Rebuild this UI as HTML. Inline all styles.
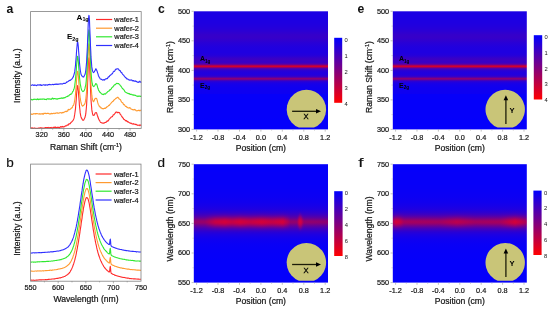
<!DOCTYPE html>
<html><head><meta charset="utf-8"><title>Figure</title>
<style>
html,body{margin:0;padding:0;background:#fff;}
svg{display:block;}
text{font-family:"Liberation Sans",sans-serif;fill:#151515;}
.t{font-size:7.3px;stroke:#151515;stroke-width:0.2px;}
.g{font-size:7.4px;stroke:#151515;stroke-width:0.2px;}
.l{font-size:8.6px;stroke:#151515;stroke-width:0.22px;}
.pb{font-size:12.2px;font-weight:bold;fill:#111;}
.pr{font-size:13.5px;fill:#111;stroke:#111;stroke-width:0.15px;}
.k{font-weight:bold;fill:#000;}
</style></head><body>
<svg width="550" height="311" viewBox="0 0 550 311">
<rect x="0" y="0" width="550" height="311" fill="#fff"/>
<defs>
<linearGradient id="gr" x1="0" y1="0" x2="0" y2="1">
<stop offset="0.0000" stop-color="#1b00e4"/><stop offset="0.0042" stop-color="#1b00e4"/><stop offset="0.0083" stop-color="#1b00e4"/><stop offset="0.0125" stop-color="#1b00e4"/><stop offset="0.0167" stop-color="#1b00e4"/><stop offset="0.0208" stop-color="#1b00e4"/><stop offset="0.0250" stop-color="#1c00e3"/><stop offset="0.0292" stop-color="#1c00e3"/><stop offset="0.0333" stop-color="#1c00e3"/><stop offset="0.0375" stop-color="#1c00e3"/><stop offset="0.0417" stop-color="#1c00e3"/><stop offset="0.0458" stop-color="#1c00e3"/><stop offset="0.0500" stop-color="#1c00e3"/><stop offset="0.0542" stop-color="#1c00e3"/><stop offset="0.0583" stop-color="#1c00e3"/><stop offset="0.0625" stop-color="#1c00e3"/><stop offset="0.0667" stop-color="#1d00e2"/><stop offset="0.0708" stop-color="#1d00e2"/><stop offset="0.0750" stop-color="#1d00e2"/><stop offset="0.0792" stop-color="#1d00e2"/><stop offset="0.0833" stop-color="#1d00e2"/><stop offset="0.0875" stop-color="#1e00e1"/><stop offset="0.0917" stop-color="#1e00e1"/><stop offset="0.0958" stop-color="#1e00e1"/><stop offset="0.1000" stop-color="#1f00e0"/><stop offset="0.1042" stop-color="#1f00e0"/><stop offset="0.1083" stop-color="#2000df"/><stop offset="0.1125" stop-color="#2000df"/><stop offset="0.1167" stop-color="#2000df"/><stop offset="0.1208" stop-color="#2100de"/><stop offset="0.1250" stop-color="#2200dd"/><stop offset="0.1292" stop-color="#2200dd"/><stop offset="0.1333" stop-color="#2300dc"/><stop offset="0.1375" stop-color="#2400db"/><stop offset="0.1417" stop-color="#2500da"/><stop offset="0.1458" stop-color="#2500da"/><stop offset="0.1500" stop-color="#2600d9"/><stop offset="0.1542" stop-color="#2700d8"/><stop offset="0.1583" stop-color="#2900d6"/><stop offset="0.1625" stop-color="#2a00d5"/><stop offset="0.1667" stop-color="#2b00d4"/><stop offset="0.1708" stop-color="#2c00d3"/><stop offset="0.1750" stop-color="#2e00d1"/><stop offset="0.1792" stop-color="#2f00d0"/><stop offset="0.1833" stop-color="#3000cf"/><stop offset="0.1875" stop-color="#3100ce"/><stop offset="0.1917" stop-color="#3300cc"/><stop offset="0.1958" stop-color="#3400cb"/><stop offset="0.2000" stop-color="#3500ca"/><stop offset="0.2042" stop-color="#3500ca"/><stop offset="0.2083" stop-color="#3600c9"/><stop offset="0.2125" stop-color="#3600c9"/><stop offset="0.2167" stop-color="#3600c9"/><stop offset="0.2208" stop-color="#3600c9"/><stop offset="0.2250" stop-color="#3500ca"/><stop offset="0.2292" stop-color="#3500ca"/><stop offset="0.2333" stop-color="#3400cb"/><stop offset="0.2375" stop-color="#3200cd"/><stop offset="0.2417" stop-color="#3100ce"/><stop offset="0.2458" stop-color="#3000cf"/><stop offset="0.2500" stop-color="#2e00d1"/><stop offset="0.2542" stop-color="#2d00d2"/><stop offset="0.2583" stop-color="#2c00d3"/><stop offset="0.2625" stop-color="#2a00d5"/><stop offset="0.2667" stop-color="#2900d6"/><stop offset="0.2708" stop-color="#2800d7"/><stop offset="0.2750" stop-color="#2700d8"/><stop offset="0.2792" stop-color="#2600d9"/><stop offset="0.2833" stop-color="#2500da"/><stop offset="0.2875" stop-color="#2400db"/><stop offset="0.2917" stop-color="#2300dc"/><stop offset="0.2958" stop-color="#2200dd"/><stop offset="0.3000" stop-color="#2100de"/><stop offset="0.3042" stop-color="#2100de"/><stop offset="0.3083" stop-color="#2000df"/><stop offset="0.3125" stop-color="#2000df"/><stop offset="0.3167" stop-color="#1f00e0"/><stop offset="0.3208" stop-color="#1f00e0"/><stop offset="0.3250" stop-color="#1f00e0"/><stop offset="0.3292" stop-color="#1f00e0"/><stop offset="0.3333" stop-color="#1f00e0"/><stop offset="0.3375" stop-color="#1f00e0"/><stop offset="0.3417" stop-color="#1f00e0"/><stop offset="0.3458" stop-color="#1f00e0"/><stop offset="0.3500" stop-color="#1f00e0"/><stop offset="0.3542" stop-color="#2000df"/><stop offset="0.3583" stop-color="#2100de"/><stop offset="0.3625" stop-color="#2200dd"/><stop offset="0.3667" stop-color="#2300dc"/><stop offset="0.3708" stop-color="#2400db"/><stop offset="0.3750" stop-color="#2600d9"/><stop offset="0.3792" stop-color="#2900d6"/><stop offset="0.3833" stop-color="#2c00d3"/><stop offset="0.3875" stop-color="#2f00d0"/><stop offset="0.3917" stop-color="#3300cc"/><stop offset="0.3958" stop-color="#3600c9"/><stop offset="0.4000" stop-color="#3900c6"/><stop offset="0.4042" stop-color="#3b00c4"/><stop offset="0.4083" stop-color="#3c00c3"/><stop offset="0.4125" stop-color="#3b00c4"/><stop offset="0.4167" stop-color="#3a00c5"/><stop offset="0.4208" stop-color="#3900c6"/><stop offset="0.4250" stop-color="#3800c7"/><stop offset="0.4292" stop-color="#3900c6"/><stop offset="0.4333" stop-color="#3b00c4"/><stop offset="0.4375" stop-color="#4000bf"/><stop offset="0.4417" stop-color="#4800b7"/><stop offset="0.4458" stop-color="#5400ab"/><stop offset="0.4500" stop-color="#680097"/><stop offset="0.4542" stop-color="#84007b"/><stop offset="0.4583" stop-color="#a80057"/><stop offset="0.4625" stop-color="#cb0034"/><stop offset="0.4667" stop-color="#d5002a"/><stop offset="0.4708" stop-color="#c0003f"/><stop offset="0.4750" stop-color="#9a0065"/><stop offset="0.4792" stop-color="#760089"/><stop offset="0.4833" stop-color="#5b00a4"/><stop offset="0.4875" stop-color="#4900b6"/><stop offset="0.4917" stop-color="#3c00c3"/><stop offset="0.4958" stop-color="#3400cb"/><stop offset="0.5000" stop-color="#2e00d1"/><stop offset="0.5042" stop-color="#2900d6"/><stop offset="0.5083" stop-color="#2600d9"/><stop offset="0.5125" stop-color="#2400db"/><stop offset="0.5167" stop-color="#2200dd"/><stop offset="0.5208" stop-color="#2100de"/><stop offset="0.5250" stop-color="#2100de"/><stop offset="0.5292" stop-color="#2100de"/><stop offset="0.5333" stop-color="#2200dd"/><stop offset="0.5375" stop-color="#2300dc"/><stop offset="0.5417" stop-color="#2600d9"/><stop offset="0.5458" stop-color="#2a00d5"/><stop offset="0.5500" stop-color="#3100ce"/><stop offset="0.5542" stop-color="#3c00c3"/><stop offset="0.5583" stop-color="#4d00b2"/><stop offset="0.5625" stop-color="#65009a"/><stop offset="0.5667" stop-color="#80007f"/><stop offset="0.5708" stop-color="#90006f"/><stop offset="0.5750" stop-color="#870078"/><stop offset="0.5792" stop-color="#6d0092"/><stop offset="0.5833" stop-color="#5200ad"/><stop offset="0.5875" stop-color="#3e00c1"/><stop offset="0.5917" stop-color="#3100ce"/><stop offset="0.5958" stop-color="#2800d7"/><stop offset="0.6000" stop-color="#2200dd"/><stop offset="0.6042" stop-color="#1e00e1"/><stop offset="0.6083" stop-color="#1b00e4"/><stop offset="0.6125" stop-color="#1800e7"/><stop offset="0.6167" stop-color="#1700e8"/><stop offset="0.6208" stop-color="#1500ea"/><stop offset="0.6250" stop-color="#1400eb"/><stop offset="0.6292" stop-color="#1300ec"/><stop offset="0.6333" stop-color="#1200ed"/><stop offset="0.6375" stop-color="#1200ed"/><stop offset="0.6417" stop-color="#1100ee"/><stop offset="0.6458" stop-color="#1000ef"/><stop offset="0.6500" stop-color="#1000ef"/><stop offset="0.6542" stop-color="#0f00f0"/><stop offset="0.6583" stop-color="#0f00f0"/><stop offset="0.6625" stop-color="#0f00f0"/><stop offset="0.6667" stop-color="#0e00f1"/><stop offset="0.6708" stop-color="#0e00f1"/><stop offset="0.6750" stop-color="#0e00f1"/><stop offset="0.6792" stop-color="#0e00f1"/><stop offset="0.6833" stop-color="#0d00f2"/><stop offset="0.6875" stop-color="#0d00f2"/><stop offset="0.6917" stop-color="#0d00f2"/><stop offset="0.6958" stop-color="#0d00f2"/><stop offset="0.7000" stop-color="#0600f9"/><stop offset="0.7042" stop-color="#0600f9"/><stop offset="0.7083" stop-color="#0600f9"/><stop offset="0.7125" stop-color="#0600f9"/><stop offset="0.7167" stop-color="#0600f9"/><stop offset="0.7208" stop-color="#0600f9"/><stop offset="0.7250" stop-color="#0600f9"/><stop offset="0.7292" stop-color="#0600f9"/><stop offset="0.7333" stop-color="#0600f9"/><stop offset="0.7375" stop-color="#0600f9"/><stop offset="0.7417" stop-color="#0600f9"/><stop offset="0.7458" stop-color="#0500fa"/><stop offset="0.7500" stop-color="#0500fa"/><stop offset="0.7542" stop-color="#0500fa"/><stop offset="0.7583" stop-color="#0500fa"/><stop offset="0.7625" stop-color="#0500fa"/><stop offset="0.7667" stop-color="#0500fa"/><stop offset="0.7708" stop-color="#0500fa"/><stop offset="0.7750" stop-color="#0500fa"/><stop offset="0.7792" stop-color="#0500fa"/><stop offset="0.7833" stop-color="#0500fa"/><stop offset="0.7875" stop-color="#0500fa"/><stop offset="0.7917" stop-color="#0500fa"/><stop offset="0.7958" stop-color="#0500fa"/><stop offset="0.8000" stop-color="#0500fa"/><stop offset="0.8042" stop-color="#0500fa"/><stop offset="0.8083" stop-color="#0500fa"/><stop offset="0.8125" stop-color="#0500fa"/><stop offset="0.8167" stop-color="#0500fa"/><stop offset="0.8208" stop-color="#0500fa"/><stop offset="0.8250" stop-color="#0500fa"/><stop offset="0.8292" stop-color="#0500fa"/><stop offset="0.8333" stop-color="#0500fa"/><stop offset="0.8375" stop-color="#0500fa"/><stop offset="0.8417" stop-color="#0500fa"/><stop offset="0.8458" stop-color="#0500fa"/><stop offset="0.8500" stop-color="#0500fa"/><stop offset="0.8542" stop-color="#0500fa"/><stop offset="0.8583" stop-color="#0500fa"/><stop offset="0.8625" stop-color="#0500fa"/><stop offset="0.8667" stop-color="#0500fa"/><stop offset="0.8708" stop-color="#0500fa"/><stop offset="0.8750" stop-color="#0500fa"/><stop offset="0.8792" stop-color="#0500fa"/><stop offset="0.8833" stop-color="#0500fa"/><stop offset="0.8875" stop-color="#0500fa"/><stop offset="0.8917" stop-color="#0500fa"/><stop offset="0.8958" stop-color="#0500fa"/><stop offset="0.9000" stop-color="#0500fa"/><stop offset="0.9042" stop-color="#0500fa"/><stop offset="0.9083" stop-color="#0400fb"/><stop offset="0.9125" stop-color="#0400fb"/><stop offset="0.9167" stop-color="#0400fb"/><stop offset="0.9208" stop-color="#0400fb"/><stop offset="0.9250" stop-color="#0400fb"/><stop offset="0.9292" stop-color="#0400fb"/><stop offset="0.9333" stop-color="#0400fb"/><stop offset="0.9375" stop-color="#0400fb"/><stop offset="0.9417" stop-color="#0400fb"/><stop offset="0.9458" stop-color="#0400fb"/><stop offset="0.9500" stop-color="#0400fb"/><stop offset="0.9542" stop-color="#0400fb"/><stop offset="0.9583" stop-color="#0400fb"/><stop offset="0.9625" stop-color="#0400fb"/><stop offset="0.9667" stop-color="#0400fb"/><stop offset="0.9708" stop-color="#0400fb"/><stop offset="0.9750" stop-color="#0400fb"/><stop offset="0.9792" stop-color="#0400fb"/><stop offset="0.9833" stop-color="#0400fb"/><stop offset="0.9875" stop-color="#0400fb"/><stop offset="0.9917" stop-color="#0400fb"/><stop offset="0.9958" stop-color="#0400fb"/><stop offset="1.0000" stop-color="#0400fb"/>
</linearGradient>
<linearGradient id="gp" x1="0" y1="0" x2="0" y2="1">
<stop offset="0.0000" stop-color="#0500fa"/><stop offset="0.0063" stop-color="#0500fa"/><stop offset="0.0125" stop-color="#0500fa"/><stop offset="0.0187" stop-color="#0500fa"/><stop offset="0.0250" stop-color="#0500fa"/><stop offset="0.0312" stop-color="#0500fa"/><stop offset="0.0375" stop-color="#0500fa"/><stop offset="0.0437" stop-color="#0500fa"/><stop offset="0.0500" stop-color="#0500fa"/><stop offset="0.0563" stop-color="#0500fa"/><stop offset="0.0625" stop-color="#0500fa"/><stop offset="0.0688" stop-color="#0600f9"/><stop offset="0.0750" stop-color="#0600f9"/><stop offset="0.0813" stop-color="#0600f9"/><stop offset="0.0875" stop-color="#0600f9"/><stop offset="0.0938" stop-color="#0600f9"/><stop offset="0.1000" stop-color="#0600f9"/><stop offset="0.1062" stop-color="#0600f9"/><stop offset="0.1125" stop-color="#0600f9"/><stop offset="0.1187" stop-color="#0600f9"/><stop offset="0.1250" stop-color="#0600f9"/><stop offset="0.1313" stop-color="#0600f9"/><stop offset="0.1375" stop-color="#0700f8"/><stop offset="0.1437" stop-color="#0700f8"/><stop offset="0.1500" stop-color="#0700f8"/><stop offset="0.1562" stop-color="#0700f8"/><stop offset="0.1625" stop-color="#0700f8"/><stop offset="0.1688" stop-color="#0700f8"/><stop offset="0.1750" stop-color="#0700f8"/><stop offset="0.1812" stop-color="#0800f7"/><stop offset="0.1875" stop-color="#0800f7"/><stop offset="0.1938" stop-color="#0800f7"/><stop offset="0.2000" stop-color="#0800f7"/><stop offset="0.2062" stop-color="#0800f7"/><stop offset="0.2125" stop-color="#0900f6"/><stop offset="0.2188" stop-color="#0900f6"/><stop offset="0.2250" stop-color="#0900f6"/><stop offset="0.2313" stop-color="#0900f6"/><stop offset="0.2375" stop-color="#0a00f5"/><stop offset="0.2437" stop-color="#0a00f5"/><stop offset="0.2500" stop-color="#0a00f5"/><stop offset="0.2562" stop-color="#0b00f4"/><stop offset="0.2625" stop-color="#0b00f4"/><stop offset="0.2687" stop-color="#0b00f4"/><stop offset="0.2750" stop-color="#0c00f3"/><stop offset="0.2812" stop-color="#0c00f3"/><stop offset="0.2875" stop-color="#0d00f2"/><stop offset="0.2938" stop-color="#0e00f1"/><stop offset="0.3000" stop-color="#0e00f1"/><stop offset="0.3063" stop-color="#0f00f0"/><stop offset="0.3125" stop-color="#1000ef"/><stop offset="0.3187" stop-color="#1100ee"/><stop offset="0.3250" stop-color="#1100ee"/><stop offset="0.3312" stop-color="#1300ec"/><stop offset="0.3375" stop-color="#1400eb"/><stop offset="0.3438" stop-color="#1500ea"/><stop offset="0.3500" stop-color="#1600e9"/><stop offset="0.3563" stop-color="#1800e7"/><stop offset="0.3625" stop-color="#1a00e5"/><stop offset="0.3688" stop-color="#1c00e3"/><stop offset="0.3750" stop-color="#1e00e1"/><stop offset="0.3812" stop-color="#2000df"/><stop offset="0.3875" stop-color="#2300dc"/><stop offset="0.3937" stop-color="#2600d9"/><stop offset="0.4000" stop-color="#2a00d5"/><stop offset="0.4062" stop-color="#2d00d2"/><stop offset="0.4125" stop-color="#3200cd"/><stop offset="0.4188" stop-color="#3700c8"/><stop offset="0.4250" stop-color="#3c00c3"/><stop offset="0.4313" stop-color="#4200bd"/><stop offset="0.4375" stop-color="#4900b6"/><stop offset="0.4437" stop-color="#5000af"/><stop offset="0.4500" stop-color="#5800a7"/><stop offset="0.4562" stop-color="#62009d"/><stop offset="0.4625" stop-color="#6c0093"/><stop offset="0.4688" stop-color="#770088"/><stop offset="0.4750" stop-color="#82007d"/><stop offset="0.4813" stop-color="#8a0075"/><stop offset="0.4875" stop-color="#8d0072"/><stop offset="0.4938" stop-color="#8a0075"/><stop offset="0.5000" stop-color="#82007d"/><stop offset="0.5062" stop-color="#780087"/><stop offset="0.5125" stop-color="#6d0092"/><stop offset="0.5188" stop-color="#63009c"/><stop offset="0.5250" stop-color="#5a00a5"/><stop offset="0.5312" stop-color="#5200ad"/><stop offset="0.5375" stop-color="#4a00b5"/><stop offset="0.5437" stop-color="#4300bc"/><stop offset="0.5500" stop-color="#3d00c2"/><stop offset="0.5563" stop-color="#3700c8"/><stop offset="0.5625" stop-color="#3200cd"/><stop offset="0.5687" stop-color="#2d00d2"/><stop offset="0.5750" stop-color="#2800d7"/><stop offset="0.5813" stop-color="#2400db"/><stop offset="0.5875" stop-color="#2100de"/><stop offset="0.5938" stop-color="#1d00e2"/><stop offset="0.6000" stop-color="#1b00e4"/><stop offset="0.6062" stop-color="#1800e7"/><stop offset="0.6125" stop-color="#1600e9"/><stop offset="0.6188" stop-color="#1400eb"/><stop offset="0.6250" stop-color="#1200ed"/><stop offset="0.6312" stop-color="#1000ef"/><stop offset="0.6375" stop-color="#0f00f0"/><stop offset="0.6438" stop-color="#0e00f1"/><stop offset="0.6500" stop-color="#0d00f2"/><stop offset="0.6562" stop-color="#0c00f3"/><stop offset="0.6625" stop-color="#0b00f4"/><stop offset="0.6687" stop-color="#0a00f5"/><stop offset="0.6750" stop-color="#0a00f5"/><stop offset="0.6813" stop-color="#0900f6"/><stop offset="0.6875" stop-color="#0900f6"/><stop offset="0.6937" stop-color="#0900f6"/><stop offset="0.7000" stop-color="#0800f7"/><stop offset="0.7063" stop-color="#0800f7"/><stop offset="0.7125" stop-color="#0800f7"/><stop offset="0.7188" stop-color="#0700f8"/><stop offset="0.7250" stop-color="#0700f8"/><stop offset="0.7312" stop-color="#0700f8"/><stop offset="0.7375" stop-color="#0700f8"/><stop offset="0.7438" stop-color="#0700f8"/><stop offset="0.7500" stop-color="#0600f9"/><stop offset="0.7562" stop-color="#0600f9"/><stop offset="0.7625" stop-color="#0600f9"/><stop offset="0.7688" stop-color="#0600f9"/><stop offset="0.7750" stop-color="#0600f9"/><stop offset="0.7812" stop-color="#0600f9"/><stop offset="0.7875" stop-color="#0600f9"/><stop offset="0.7937" stop-color="#0600f9"/><stop offset="0.8000" stop-color="#0500fa"/><stop offset="0.8063" stop-color="#0500fa"/><stop offset="0.8125" stop-color="#0500fa"/><stop offset="0.8187" stop-color="#0500fa"/><stop offset="0.8250" stop-color="#0500fa"/><stop offset="0.8313" stop-color="#0500fa"/><stop offset="0.8375" stop-color="#0500fa"/><stop offset="0.8438" stop-color="#0500fa"/><stop offset="0.8500" stop-color="#0500fa"/><stop offset="0.8562" stop-color="#0500fa"/><stop offset="0.8625" stop-color="#0500fa"/><stop offset="0.8688" stop-color="#0500fa"/><stop offset="0.8750" stop-color="#0500fa"/><stop offset="0.8812" stop-color="#0500fa"/><stop offset="0.8875" stop-color="#0500fa"/><stop offset="0.8938" stop-color="#0500fa"/><stop offset="0.9000" stop-color="#0400fb"/><stop offset="0.9062" stop-color="#0400fb"/><stop offset="0.9125" stop-color="#0400fb"/><stop offset="0.9187" stop-color="#0400fb"/><stop offset="0.9250" stop-color="#0400fb"/><stop offset="0.9313" stop-color="#0400fb"/><stop offset="0.9375" stop-color="#0400fb"/><stop offset="0.9437" stop-color="#0400fb"/><stop offset="0.9500" stop-color="#0400fb"/><stop offset="0.9563" stop-color="#0400fb"/><stop offset="0.9625" stop-color="#0400fb"/><stop offset="0.9688" stop-color="#0400fb"/><stop offset="0.9750" stop-color="#0400fb"/><stop offset="0.9812" stop-color="#0400fb"/><stop offset="0.9875" stop-color="#0400fb"/><stop offset="0.9938" stop-color="#0400fb"/><stop offset="1.0000" stop-color="#0400fb"/>
</linearGradient>
<linearGradient id="cb" x1="0" y1="0" x2="0" y2="1"><stop offset="0" stop-color="#0000ff"/><stop offset="1" stop-color="#ff0000"/></linearGradient>
<linearGradient id="ov" x1="0" y1="0" x2="0" y2="1">
<stop offset="0.0000" stop-color="#ff0018" stop-opacity="0.000"/><stop offset="0.0083" stop-color="#ff0018" stop-opacity="0.000"/><stop offset="0.0167" stop-color="#ff0018" stop-opacity="0.000"/><stop offset="0.0250" stop-color="#ff0018" stop-opacity="0.000"/><stop offset="0.0333" stop-color="#ff0018" stop-opacity="0.000"/><stop offset="0.0417" stop-color="#ff0018" stop-opacity="0.000"/><stop offset="0.0500" stop-color="#ff0018" stop-opacity="0.000"/><stop offset="0.0583" stop-color="#ff0018" stop-opacity="0.000"/><stop offset="0.0667" stop-color="#ff0018" stop-opacity="0.000"/><stop offset="0.0750" stop-color="#ff0018" stop-opacity="0.000"/><stop offset="0.0833" stop-color="#ff0018" stop-opacity="0.000"/><stop offset="0.0917" stop-color="#ff0018" stop-opacity="0.000"/><stop offset="0.1000" stop-color="#ff0018" stop-opacity="0.000"/><stop offset="0.1083" stop-color="#ff0018" stop-opacity="0.000"/><stop offset="0.1167" stop-color="#ff0018" stop-opacity="0.000"/><stop offset="0.1250" stop-color="#ff0018" stop-opacity="0.000"/><stop offset="0.1333" stop-color="#ff0018" stop-opacity="0.000"/><stop offset="0.1417" stop-color="#ff0018" stop-opacity="0.000"/><stop offset="0.1500" stop-color="#ff0018" stop-opacity="0.000"/><stop offset="0.1583" stop-color="#ff0018" stop-opacity="0.000"/><stop offset="0.1667" stop-color="#ff0018" stop-opacity="0.000"/><stop offset="0.1750" stop-color="#ff0018" stop-opacity="0.000"/><stop offset="0.1833" stop-color="#ff0018" stop-opacity="0.000"/><stop offset="0.1917" stop-color="#ff0018" stop-opacity="0.000"/><stop offset="0.2000" stop-color="#ff0018" stop-opacity="0.000"/><stop offset="0.2083" stop-color="#ff0018" stop-opacity="0.000"/><stop offset="0.2167" stop-color="#ff0018" stop-opacity="0.000"/><stop offset="0.2250" stop-color="#ff0018" stop-opacity="0.000"/><stop offset="0.2333" stop-color="#ff0018" stop-opacity="0.000"/><stop offset="0.2417" stop-color="#ff0018" stop-opacity="0.000"/><stop offset="0.2500" stop-color="#ff0018" stop-opacity="0.000"/><stop offset="0.2583" stop-color="#ff0018" stop-opacity="0.000"/><stop offset="0.2667" stop-color="#ff0018" stop-opacity="0.000"/><stop offset="0.2750" stop-color="#ff0018" stop-opacity="0.000"/><stop offset="0.2833" stop-color="#ff0018" stop-opacity="0.000"/><stop offset="0.2917" stop-color="#ff0018" stop-opacity="0.000"/><stop offset="0.3000" stop-color="#ff0018" stop-opacity="0.000"/><stop offset="0.3083" stop-color="#ff0018" stop-opacity="0.000"/><stop offset="0.3167" stop-color="#ff0018" stop-opacity="0.000"/><stop offset="0.3250" stop-color="#ff0018" stop-opacity="0.000"/><stop offset="0.3333" stop-color="#ff0018" stop-opacity="0.000"/><stop offset="0.3417" stop-color="#ff0018" stop-opacity="0.000"/><stop offset="0.3500" stop-color="#ff0018" stop-opacity="0.000"/><stop offset="0.3583" stop-color="#ff0018" stop-opacity="0.000"/><stop offset="0.3667" stop-color="#ff0018" stop-opacity="0.000"/><stop offset="0.3750" stop-color="#ff0018" stop-opacity="0.000"/><stop offset="0.3833" stop-color="#ff0018" stop-opacity="0.001"/><stop offset="0.3917" stop-color="#ff0018" stop-opacity="0.003"/><stop offset="0.4000" stop-color="#ff0018" stop-opacity="0.008"/><stop offset="0.4083" stop-color="#ff0018" stop-opacity="0.018"/><stop offset="0.4167" stop-color="#ff0018" stop-opacity="0.036"/><stop offset="0.4250" stop-color="#ff0018" stop-opacity="0.068"/><stop offset="0.4333" stop-color="#ff0018" stop-opacity="0.118"/><stop offset="0.4417" stop-color="#ff0018" stop-opacity="0.189"/><stop offset="0.4500" stop-color="#ff0018" stop-opacity="0.280"/><stop offset="0.4583" stop-color="#ff0018" stop-opacity="0.383"/><stop offset="0.4667" stop-color="#ff0018" stop-opacity="0.485"/><stop offset="0.4750" stop-color="#ff0018" stop-opacity="0.568"/><stop offset="0.4833" stop-color="#ff0018" stop-opacity="0.614"/><stop offset="0.4917" stop-color="#ff0018" stop-opacity="0.614"/><stop offset="0.5000" stop-color="#ff0018" stop-opacity="0.568"/><stop offset="0.5083" stop-color="#ff0018" stop-opacity="0.485"/><stop offset="0.5167" stop-color="#ff0018" stop-opacity="0.383"/><stop offset="0.5250" stop-color="#ff0018" stop-opacity="0.280"/><stop offset="0.5333" stop-color="#ff0018" stop-opacity="0.189"/><stop offset="0.5417" stop-color="#ff0018" stop-opacity="0.118"/><stop offset="0.5500" stop-color="#ff0018" stop-opacity="0.068"/><stop offset="0.5583" stop-color="#ff0018" stop-opacity="0.036"/><stop offset="0.5667" stop-color="#ff0018" stop-opacity="0.018"/><stop offset="0.5750" stop-color="#ff0018" stop-opacity="0.008"/><stop offset="0.5833" stop-color="#ff0018" stop-opacity="0.003"/><stop offset="0.5917" stop-color="#ff0018" stop-opacity="0.001"/><stop offset="0.6000" stop-color="#ff0018" stop-opacity="0.000"/><stop offset="0.6083" stop-color="#ff0018" stop-opacity="0.000"/><stop offset="0.6167" stop-color="#ff0018" stop-opacity="0.000"/><stop offset="0.6250" stop-color="#ff0018" stop-opacity="0.000"/><stop offset="0.6333" stop-color="#ff0018" stop-opacity="0.000"/><stop offset="0.6417" stop-color="#ff0018" stop-opacity="0.000"/><stop offset="0.6500" stop-color="#ff0018" stop-opacity="0.000"/><stop offset="0.6583" stop-color="#ff0018" stop-opacity="0.000"/><stop offset="0.6667" stop-color="#ff0018" stop-opacity="0.000"/><stop offset="0.6750" stop-color="#ff0018" stop-opacity="0.000"/><stop offset="0.6833" stop-color="#ff0018" stop-opacity="0.000"/><stop offset="0.6917" stop-color="#ff0018" stop-opacity="0.000"/><stop offset="0.7000" stop-color="#ff0018" stop-opacity="0.000"/><stop offset="0.7083" stop-color="#ff0018" stop-opacity="0.000"/><stop offset="0.7167" stop-color="#ff0018" stop-opacity="0.000"/><stop offset="0.7250" stop-color="#ff0018" stop-opacity="0.000"/><stop offset="0.7333" stop-color="#ff0018" stop-opacity="0.000"/><stop offset="0.7417" stop-color="#ff0018" stop-opacity="0.000"/><stop offset="0.7500" stop-color="#ff0018" stop-opacity="0.000"/><stop offset="0.7583" stop-color="#ff0018" stop-opacity="0.000"/><stop offset="0.7667" stop-color="#ff0018" stop-opacity="0.000"/><stop offset="0.7750" stop-color="#ff0018" stop-opacity="0.000"/><stop offset="0.7833" stop-color="#ff0018" stop-opacity="0.000"/><stop offset="0.7917" stop-color="#ff0018" stop-opacity="0.000"/><stop offset="0.8000" stop-color="#ff0018" stop-opacity="0.000"/><stop offset="0.8083" stop-color="#ff0018" stop-opacity="0.000"/><stop offset="0.8167" stop-color="#ff0018" stop-opacity="0.000"/><stop offset="0.8250" stop-color="#ff0018" stop-opacity="0.000"/><stop offset="0.8333" stop-color="#ff0018" stop-opacity="0.000"/><stop offset="0.8417" stop-color="#ff0018" stop-opacity="0.000"/><stop offset="0.8500" stop-color="#ff0018" stop-opacity="0.000"/><stop offset="0.8583" stop-color="#ff0018" stop-opacity="0.000"/><stop offset="0.8667" stop-color="#ff0018" stop-opacity="0.000"/><stop offset="0.8750" stop-color="#ff0018" stop-opacity="0.000"/><stop offset="0.8833" stop-color="#ff0018" stop-opacity="0.000"/><stop offset="0.8917" stop-color="#ff0018" stop-opacity="0.000"/><stop offset="0.9000" stop-color="#ff0018" stop-opacity="0.000"/><stop offset="0.9083" stop-color="#ff0018" stop-opacity="0.000"/><stop offset="0.9167" stop-color="#ff0018" stop-opacity="0.000"/><stop offset="0.9250" stop-color="#ff0018" stop-opacity="0.000"/><stop offset="0.9333" stop-color="#ff0018" stop-opacity="0.000"/><stop offset="0.9417" stop-color="#ff0018" stop-opacity="0.000"/><stop offset="0.9500" stop-color="#ff0018" stop-opacity="0.000"/><stop offset="0.9583" stop-color="#ff0018" stop-opacity="0.000"/><stop offset="0.9667" stop-color="#ff0018" stop-opacity="0.000"/><stop offset="0.9750" stop-color="#ff0018" stop-opacity="0.000"/><stop offset="0.9833" stop-color="#ff0018" stop-opacity="0.000"/><stop offset="0.9917" stop-color="#ff0018" stop-opacity="0.000"/><stop offset="1.0000" stop-color="#ff0018" stop-opacity="0.000"/>
</linearGradient>
<linearGradient id="mdg" x1="0" y1="0" x2="1" y2="0"><stop offset="0.0000" stop-color="#1a1a1a"/><stop offset="0.0835" stop-color="#292929"/><stop offset="0.1580" stop-color="#cccccc"/><stop offset="0.2325" stop-color="#ffffff"/><stop offset="0.2846" stop-color="#cccccc"/><stop offset="0.3443" stop-color="#ffffff"/><stop offset="0.4188" stop-color="#cccccc"/><stop offset="0.5082" stop-color="#ffffff"/><stop offset="0.5827" stop-color="#cccccc"/><stop offset="0.6647" stop-color="#ffffff"/><stop offset="0.6982" stop-color="#808080"/><stop offset="0.7206" stop-color="#141414"/><stop offset="0.7690" stop-color="#141414"/><stop offset="0.7765" stop-color="#808080"/><stop offset="0.7876" stop-color="#e6e6e6"/><stop offset="0.7988" stop-color="#e6e6e6"/><stop offset="0.8100" stop-color="#808080"/><stop offset="0.8212" stop-color="#141414"/><stop offset="1.0000" stop-color="#000000"/></linearGradient>
<mask id="md" maskUnits="userSpaceOnUse" x="193.8" y="150" width="134.2" height="150"><rect x="193.8" y="150" width="134.2" height="150" fill="url(#mdg)"/></mask>
<linearGradient id="mfg" x1="0" y1="0" x2="1" y2="0"><stop offset="0.0000" stop-color="#808080"/><stop offset="0.0239" stop-color="#ffffff"/><stop offset="0.0463" stop-color="#e6e6e6"/><stop offset="0.0836" stop-color="#595959"/><stop offset="0.3522" stop-color="#4c4c4c"/><stop offset="0.4269" stop-color="#808080"/><stop offset="0.4791" stop-color="#a6a6a6"/><stop offset="0.5313" stop-color="#808080"/><stop offset="0.6134" stop-color="#4c4c4c"/><stop offset="0.8000" stop-color="#595959"/><stop offset="0.8597" stop-color="#b2b2b2"/><stop offset="0.9119" stop-color="#ffffff"/><stop offset="0.9567" stop-color="#b2b2b2"/><stop offset="1.0000" stop-color="#595959"/></linearGradient>
<mask id="mf" maskUnits="userSpaceOnUse" x="392.8" y="150" width="134.0" height="150"><rect x="392.8" y="150" width="134.0" height="150" fill="url(#mfg)"/></mask>
<radialGradient id="sp"><stop offset="0" stop-color="#e00040" stop-opacity="0.45"/><stop offset="0.5" stop-color="#d00050" stop-opacity="0.25"/><stop offset="1" stop-color="#c00060" stop-opacity="0"/></radialGradient>
</defs>
<polyline points="30.6,128.3 30.9,128.3 31.1,127.9 31.4,128.3 31.7,128.2 31.9,127.9 32.2,128.0 32.4,127.8 32.7,128.5 33.0,128.5 33.2,128.5 33.5,128.2 33.8,128.1 34.0,128.0 34.3,127.9 34.6,128.1 34.8,128.2 35.1,128.4 35.4,128.3 35.6,128.3 35.9,128.4 36.1,128.5 36.4,128.4 36.7,128.2 36.9,128.2 37.2,128.5 37.5,128.5 37.7,128.4 38.0,128.2 38.3,128.1 38.5,128.1 38.8,128.1 39.0,128.3 39.3,128.3 39.6,128.3 39.8,127.8 40.1,127.9 40.4,127.7 40.6,127.8 40.9,127.7 41.2,127.9 41.4,128.1 41.7,127.9 42.0,127.8 42.2,127.9 42.5,128.2 42.7,128.3 43.0,128.3 43.3,128.3 43.5,128.1 43.8,128.0 44.1,127.9 44.3,128.0 44.6,128.1 44.9,127.9 45.1,127.8 45.4,127.5 45.6,127.7 45.9,127.7 46.2,127.8 46.4,127.7 46.7,127.5 47.0,127.8 47.2,127.5 47.5,127.5 47.8,127.5 48.0,128.0 48.3,127.8 48.5,127.6 48.8,127.4 49.1,127.7 49.3,128.0 49.6,127.7 49.9,127.9 50.1,127.5 50.4,127.8 50.7,127.8 50.9,127.9 51.2,127.4 51.5,127.6 51.7,127.8 52.0,128.1 52.2,128.0 52.5,128.0 52.8,127.8 53.0,127.5 53.3,127.3 53.6,127.6 53.8,127.4 54.1,127.5 54.4,127.2 54.6,127.4 54.9,127.6 55.1,127.4 55.4,127.1 55.7,127.0 55.9,127.4 56.2,127.8 56.5,127.8 56.7,127.5 57.0,127.4 57.3,127.4 57.5,127.5 57.8,127.3 58.1,127.4 58.3,127.2 58.6,127.4 58.8,127.4 59.1,127.7 59.4,127.9 59.6,128.0 59.9,127.3 60.2,127.0 60.4,126.7 60.7,127.0 61.0,126.7 61.2,126.9 61.5,127.0 61.7,127.1 62.0,126.7 62.3,126.4 62.5,126.5 62.8,126.7 63.1,127.1 63.3,127.0 63.6,126.9 63.9,126.6 64.1,126.8 64.4,126.7 64.7,126.8 64.9,126.3 65.2,126.1 65.4,125.7 65.7,126.0 66.0,126.0 66.2,126.0 66.5,125.6 66.8,125.4 67.0,125.2 67.3,125.0 67.6,124.9 67.8,125.2 68.1,125.2 68.3,124.9 68.6,124.2 68.9,123.8 69.1,123.8 69.4,124.0 69.7,124.0 69.9,123.8 70.2,123.5 70.5,123.3 70.7,122.8 71.0,122.5 71.3,122.2 71.5,122.1 71.8,121.8 72.0,121.4 72.3,121.2 72.6,121.0 72.8,120.7 73.1,120.3 73.4,119.7 73.6,119.2 73.9,118.7 74.2,117.4 74.4,116.2 74.7,114.4 74.9,113.0 75.2,110.9 75.5,108.6 75.7,105.8 76.0,102.5 76.3,99.0 76.5,95.1 76.8,91.5 77.1,88.3 77.3,86.1 77.6,85.6 77.8,86.3 78.1,88.7 78.4,91.3 78.6,94.7 78.9,98.1 79.2,101.8 79.4,105.1 79.7,108.0 80.0,110.5 80.2,112.9 80.5,114.6 80.8,116.1 81.0,116.9 81.3,117.8 81.5,118.2 81.8,118.6 82.1,119.1 82.3,119.7 82.6,120.0 82.9,120.2 83.1,120.3 83.4,120.3 83.7,120.1 83.9,119.6 84.2,119.0 84.4,118.7 84.7,117.9 85.0,117.5 85.2,116.4 85.5,115.5 85.8,113.7 86.0,111.4 86.3,108.5 86.6,105.0 86.8,100.8 87.1,95.8 87.4,90.0 87.6,83.5 87.9,76.5 88.1,69.8 88.4,63.5 88.7,59.5 88.9,57.7 89.2,59.6 89.5,63.7 89.7,69.4 90.0,75.9 90.3,82.4 90.5,88.9 90.8,94.7 91.0,99.6 91.3,103.6 91.6,106.8 91.8,109.4 92.1,111.7 92.4,113.0 92.6,114.2 92.9,114.9 93.2,115.4 93.4,115.3 93.7,115.2 94.0,115.1 94.2,115.1 94.5,114.7 94.7,114.2 95.0,113.3 95.3,112.7 95.5,112.8 95.8,112.6 96.1,112.6 96.3,112.6 96.6,113.0 96.9,113.9 97.1,114.6 97.4,115.5 97.6,116.0 97.9,117.1 98.2,117.6 98.4,118.5 98.7,119.1 99.0,119.9 99.2,120.0 99.5,120.3 99.8,120.8 100.0,121.4 100.3,122.0 100.5,122.3 100.8,122.5 101.1,122.6 101.3,122.7 101.6,122.8 101.9,122.9 102.1,123.0 102.4,123.1 102.7,123.2 102.9,123.1 103.2,123.0 103.5,123.3 103.7,123.3 104.0,123.1 104.2,122.7 104.5,122.9 104.8,122.5 105.0,122.5 105.3,122.4 105.6,122.4 105.8,122.5 106.1,122.2 106.4,122.1 106.6,121.7 106.9,121.2 107.1,121.0 107.4,121.1 107.7,120.9 107.9,121.1 108.2,120.6 108.5,120.6 108.7,120.1 109.0,119.5 109.3,119.0 109.5,118.8 109.8,118.6 110.1,118.3 110.3,118.0 110.6,117.8 110.8,117.5 111.1,117.0 111.4,117.0 111.6,116.9 111.9,116.9 112.2,116.7 112.4,116.5 112.7,115.9 113.0,115.2 113.2,114.9 113.5,114.9 113.7,114.9 114.0,114.7 114.3,114.2 114.5,114.0 114.8,113.6 115.1,113.3 115.3,112.9 115.6,112.5 115.9,112.2 116.1,112.1 116.4,112.0 116.7,112.0 116.9,112.1 117.2,112.6 117.4,112.6 117.7,112.6 118.0,112.3 118.2,112.3 118.5,112.4 118.8,112.7 119.0,112.7 119.3,112.6 119.6,112.8 119.8,113.2 120.1,114.2 120.3,114.3 120.6,114.6 120.9,114.9 121.1,115.3 121.4,115.8 121.7,116.2 121.9,116.7 122.2,117.1 122.5,117.2 122.7,117.7 123.0,117.9 123.3,118.3 123.5,118.6 123.8,119.4 124.0,119.5 124.3,119.6 124.6,119.6 124.8,119.8 125.1,120.2 125.4,120.4 125.6,120.8 125.9,120.9 126.2,121.0 126.4,120.6 126.7,120.8 126.9,121.2 127.2,121.6 127.5,121.8 127.7,121.5 128.0,121.8 128.3,122.0 128.5,122.2 128.8,122.3 129.1,122.4 129.3,122.8 129.6,122.7 129.8,123.0 130.1,123.1 130.4,123.3 130.6,123.0 130.9,123.0 131.2,123.2 131.4,123.4 131.7,123.7 132.0,123.7 132.2,124.0 132.5,124.1 132.8,124.0 133.0,123.6 133.3,123.6 133.5,123.8 133.8,124.2 134.1,124.3 134.3,124.2 134.6,124.2 134.9,124.0 135.1,124.3 135.4,124.5 135.7,124.6 135.9,124.3 136.2,124.3 136.4,124.6 136.7,124.9 137.0,124.9 137.2,124.9 137.5,125.1 137.8,125.4 138.0,125.3 138.3,125.3 138.6,125.2 138.8,125.3 139.1,125.0 139.4,125.2 139.6,125.1 139.9,125.6 140.1,125.0 140.4,125.1 140.7,125.0 140.9,125.3 141.2,125.2" fill="none" stroke="#ff2a2a" stroke-width="1.1" stroke-linejoin="round"/>
<polyline points="30.6,114.3 30.9,114.3 31.1,114.2 31.4,114.0 31.7,114.1 31.9,114.4 32.2,114.4 32.4,114.2 32.7,114.1 33.0,114.2 33.2,114.0 33.5,113.8 33.8,113.6 34.0,113.6 34.3,113.7 34.6,113.7 34.8,113.9 35.1,113.9 35.4,114.0 35.6,113.6 35.9,113.9 36.1,113.5 36.4,113.6 36.7,113.6 36.9,113.7 37.2,113.8 37.5,113.6 37.7,113.7 38.0,113.8 38.3,113.9 38.5,114.0 38.8,113.9 39.0,113.8 39.3,113.6 39.6,113.8 39.8,114.0 40.1,114.3 40.4,114.1 40.6,113.9 40.9,113.9 41.2,113.8 41.4,113.9 41.7,113.9 42.0,113.9 42.2,113.7 42.5,113.6 42.7,113.9 43.0,114.3 43.3,114.3 43.5,114.1 43.8,113.3 44.1,113.3 44.3,113.3 44.6,113.5 44.9,113.6 45.1,113.3 45.4,113.5 45.6,113.4 45.9,113.4 46.2,113.5 46.4,113.7 46.7,113.6 47.0,113.3 47.2,113.2 47.5,113.4 47.8,113.4 48.0,113.3 48.3,113.3 48.5,113.4 48.8,113.6 49.1,113.6 49.3,113.9 49.6,114.0 49.9,114.0 50.1,113.9 50.4,113.9 50.7,113.9 50.9,113.5 51.2,113.4 51.5,113.3 51.7,113.8 52.0,113.6 52.2,113.7 52.5,113.5 52.8,113.7 53.0,113.6 53.3,113.5 53.6,113.3 53.8,113.2 54.1,113.3 54.4,113.2 54.6,113.3 54.9,113.6 55.1,113.5 55.4,113.4 55.7,113.1 55.9,113.2 56.2,113.1 56.5,113.0 56.7,112.8 57.0,113.1 57.3,113.2 57.5,113.1 57.8,112.8 58.1,112.9 58.3,113.2 58.6,113.3 58.8,113.3 59.1,113.1 59.4,112.9 59.6,112.8 59.9,112.6 60.2,112.8 60.4,112.8 60.7,112.6 61.0,112.7 61.2,112.9 61.5,113.1 61.7,112.9 62.0,112.6 62.3,112.8 62.5,112.4 62.8,112.6 63.1,112.3 63.3,112.7 63.6,112.4 63.9,112.3 64.1,112.1 64.4,112.1 64.7,111.9 64.9,111.8 65.2,111.5 65.4,111.3 65.7,111.5 66.0,111.5 66.2,111.7 66.5,111.5 66.8,111.2 67.0,111.0 67.3,111.0 67.6,111.2 67.8,110.7 68.1,109.8 68.3,109.3 68.6,109.7 68.9,109.9 69.1,109.9 69.4,109.6 69.7,109.4 69.9,109.3 70.2,109.1 70.5,109.1 70.7,108.9 71.0,108.5 71.3,108.3 71.5,107.9 71.8,107.9 72.0,107.9 72.3,107.6 72.6,106.7 72.8,105.9 73.1,105.6 73.4,105.5 73.6,105.1 73.9,104.2 74.2,102.9 74.4,101.8 74.7,100.3 74.9,98.8 75.2,96.5 75.5,94.2 75.7,91.3 76.0,88.2 76.3,84.6 76.5,80.7 76.8,77.0 77.1,73.8 77.3,71.9 77.6,71.2 77.8,71.8 78.1,73.6 78.4,76.3 78.6,79.8 78.9,83.8 79.2,87.3 79.4,90.9 79.7,93.8 80.0,96.4 80.2,98.2 80.5,99.9 80.8,101.5 81.0,102.5 81.3,103.6 81.5,104.4 81.8,105.2 82.1,105.5 82.3,105.9 82.6,106.2 82.9,106.0 83.1,105.7 83.4,105.4 83.7,105.4 83.9,104.9 84.2,104.7 84.4,104.2 84.7,104.0 85.0,103.1 85.2,102.4 85.5,101.0 85.8,99.2 86.0,97.0 86.3,94.5 86.6,91.1 86.8,87.0 87.1,81.8 87.4,75.9 87.6,69.5 87.9,62.4 88.1,55.9 88.4,49.7 88.7,45.7 88.9,43.8 89.2,45.1 89.5,49.1 89.7,55.1 90.0,61.9 90.3,68.4 90.5,74.8 90.8,80.3 91.0,85.1 91.3,89.1 91.6,92.5 91.8,95.2 92.1,97.2 92.4,98.8 92.6,99.9 92.9,100.8 93.2,101.4 93.4,101.8 93.7,101.5 94.0,101.1 94.2,100.4 94.5,99.9 94.7,99.2 95.0,98.8 95.3,98.4 95.5,98.6 95.8,98.5 96.1,98.3 96.3,98.3 96.6,98.4 96.9,99.3 97.1,100.0 97.4,101.1 97.6,102.2 97.9,103.2 98.2,104.2 98.4,104.6 98.7,105.0 99.0,105.5 99.2,106.2 99.5,106.7 99.8,106.9 100.0,106.7 100.3,107.1 100.5,107.5 100.8,107.9 101.1,108.0 101.3,107.8 101.6,108.0 101.9,108.4 102.1,108.7 102.4,108.8 102.7,108.5 102.9,108.7 103.2,108.7 103.5,108.9 103.7,108.7 104.0,108.3 104.2,108.3 104.5,108.1 104.8,108.4 105.0,108.5 105.3,108.5 105.6,108.0 105.8,107.6 106.1,107.4 106.4,107.6 106.6,107.3 106.9,106.8 107.1,106.7 107.4,106.7 107.7,106.7 107.9,106.2 108.2,106.1 108.5,105.5 108.7,105.4 109.0,105.2 109.3,105.4 109.5,105.2 109.8,104.4 110.1,104.4 110.3,103.9 110.6,103.8 110.8,103.3 111.1,103.1 111.4,102.9 111.6,102.4 111.9,102.2 112.2,101.8 112.4,101.6 112.7,101.5 113.0,101.4 113.2,101.1 113.5,100.7 113.7,100.2 114.0,100.0 114.3,99.9 114.5,99.7 114.8,99.5 115.1,99.1 115.3,98.8 115.6,98.6 115.9,98.3 116.1,98.2 116.4,98.2 116.7,98.0 116.9,97.9 117.2,97.4 117.4,97.4 117.7,97.2 118.0,97.5 118.2,97.6 118.5,97.9 118.8,98.4 119.0,98.8 119.3,99.1 119.6,99.1 119.8,99.3 120.1,99.4 120.3,99.5 120.6,99.9 120.9,100.7 121.1,101.4 121.4,101.7 121.7,102.1 121.9,102.3 122.2,102.6 122.5,102.6 122.7,102.8 123.0,103.2 123.3,104.0 123.5,104.5 123.8,104.7 124.0,104.5 124.3,104.8 124.6,105.0 124.8,105.3 125.1,105.7 125.4,106.2 125.6,106.5 125.9,106.4 126.2,106.3 126.4,106.6 126.7,107.1 126.9,107.3 127.2,107.3 127.5,107.2 127.7,107.7 128.0,107.8 128.3,107.8 128.5,107.9 128.8,108.0 129.1,108.2 129.3,108.0 129.6,107.6 129.8,107.6 130.1,107.7 130.4,108.3 130.6,108.6 130.9,109.0 131.2,109.0 131.4,109.0 131.7,109.2 132.0,109.3 132.2,109.5 132.5,109.5 132.8,109.7 133.0,109.9 133.3,109.7 133.5,109.9 133.8,109.6 134.1,109.7 134.3,109.4 134.6,109.7 134.9,109.8 135.1,110.0 135.4,109.8 135.7,110.1 135.9,110.5 136.2,110.7 136.4,110.8 136.7,110.7 137.0,111.0 137.2,110.8 137.5,110.6 137.8,110.5 138.0,110.5 138.3,110.6 138.6,110.3 138.8,110.1 139.1,110.3 139.4,110.2 139.6,110.7 139.9,110.9 140.1,110.8 140.4,110.3 140.7,110.2 140.9,110.2 141.2,110.4" fill="none" stroke="#ff9a30" stroke-width="1.1" stroke-linejoin="round"/>
<polyline points="30.6,99.5 30.9,99.4 31.1,99.4 31.4,99.4 31.7,99.7 31.9,100.0 32.2,100.0 32.4,99.9 32.7,99.5 33.0,99.6 33.2,99.3 33.5,99.5 33.8,99.3 34.0,99.3 34.3,99.1 34.6,99.4 34.8,99.3 35.1,99.2 35.4,99.2 35.6,99.4 35.9,99.3 36.1,99.3 36.4,99.2 36.7,99.6 36.9,99.6 37.2,99.5 37.5,98.9 37.7,98.8 38.0,99.2 38.3,99.6 38.5,99.7 38.8,99.4 39.0,99.2 39.3,99.1 39.6,99.2 39.8,99.5 40.1,99.2 40.4,99.2 40.6,99.0 40.9,99.3 41.2,99.2 41.4,99.2 41.7,99.0 42.0,99.2 42.2,99.3 42.5,99.3 42.7,98.9 43.0,98.8 43.3,99.1 43.5,99.0 43.8,99.0 44.1,98.9 44.3,99.3 44.6,99.4 44.9,99.4 45.1,99.3 45.4,99.5 45.6,99.4 45.9,99.5 46.2,99.4 46.4,99.6 46.7,99.2 47.0,99.3 47.2,98.8 47.5,98.8 47.8,98.7 48.0,98.8 48.3,99.0 48.5,98.8 48.8,99.2 49.1,99.1 49.3,99.1 49.6,98.8 49.9,99.0 50.1,99.0 50.4,99.0 50.7,99.2 50.9,99.4 51.2,99.4 51.5,98.9 51.7,98.9 52.0,98.7 52.2,98.3 52.5,98.1 52.8,98.1 53.0,98.8 53.3,98.9 53.6,99.0 53.8,98.5 54.1,98.5 54.4,98.6 54.6,98.6 54.9,98.5 55.1,98.7 55.4,98.7 55.7,98.8 55.9,98.9 56.2,99.2 56.5,98.9 56.7,99.0 57.0,98.8 57.3,99.2 57.5,98.7 57.8,98.7 58.1,98.5 58.3,98.6 58.6,98.7 58.8,98.7 59.1,98.6 59.4,98.4 59.6,98.4 59.9,98.6 60.2,98.5 60.4,98.4 60.7,98.2 61.0,98.0 61.2,97.9 61.5,98.1 61.7,98.1 62.0,98.3 62.3,97.9 62.5,98.1 62.8,98.3 63.1,98.3 63.3,98.2 63.6,97.7 63.9,98.0 64.1,97.9 64.4,97.9 64.7,97.7 64.9,97.5 65.2,97.6 65.4,97.4 65.7,97.1 66.0,96.9 66.2,96.8 66.5,96.8 66.8,96.6 67.0,96.7 67.3,96.6 67.6,96.5 67.8,95.9 68.1,95.9 68.3,96.0 68.6,96.0 68.9,95.8 69.1,95.3 69.4,95.0 69.7,94.7 69.9,94.7 70.2,94.6 70.5,94.2 70.7,94.4 71.0,94.0 71.3,94.1 71.5,93.5 71.8,93.5 72.0,93.2 72.3,92.4 72.6,91.7 72.8,91.4 73.1,91.2 73.4,90.7 73.6,89.6 73.9,89.2 74.2,88.4 74.4,87.5 74.7,85.8 74.9,84.0 75.2,81.8 75.5,79.3 75.7,76.4 76.0,73.4 76.3,70.1 76.5,66.4 76.8,62.6 77.1,59.4 77.3,57.2 77.6,56.2 77.8,57.0 78.1,59.0 78.4,62.2 78.6,65.7 78.9,69.3 79.2,72.9 79.4,76.2 79.7,79.3 80.0,81.8 80.2,83.8 80.5,85.2 80.8,86.6 81.0,87.7 81.3,89.0 81.5,89.8 81.8,90.3 82.1,90.6 82.3,91.0 82.6,91.4 82.9,91.6 83.1,91.5 83.4,91.2 83.7,91.0 83.9,90.8 84.2,90.5 84.4,90.2 84.7,89.3 85.0,88.4 85.2,87.1 85.5,85.9 85.8,84.6 86.0,82.9 86.3,80.0 86.6,76.1 86.8,71.8 87.1,67.0 87.4,61.2 87.6,54.8 87.9,47.9 88.1,41.5 88.4,35.5 88.7,31.4 88.9,29.7 89.2,30.9 89.5,34.6 89.7,40.3 90.0,47.2 90.3,53.8 90.5,60.0 90.8,65.7 91.0,71.0 91.3,75.5 91.6,78.9 91.8,81.1 92.1,82.8 92.4,84.0 92.6,85.3 92.9,85.7 93.2,86.2 93.4,86.4 93.7,86.6 94.0,86.4 94.2,86.2 94.5,85.9 94.7,85.6 95.0,85.0 95.3,84.6 95.5,84.1 95.8,83.6 96.1,83.7 96.3,83.8 96.6,84.1 96.9,84.7 97.1,85.4 97.4,86.4 97.6,87.3 97.9,88.3 98.2,89.0 98.4,89.7 98.7,90.5 99.0,90.8 99.2,91.0 99.5,91.6 99.8,92.2 100.0,92.5 100.3,92.4 100.5,92.6 100.8,93.0 101.1,93.4 101.3,93.6 101.6,94.0 101.9,93.8 102.1,94.0 102.4,94.3 102.7,94.4 102.9,94.5 103.2,94.4 103.5,94.6 103.7,94.3 104.0,94.0 104.2,93.7 104.5,93.8 104.8,94.0 105.0,94.2 105.3,94.1 105.6,94.0 105.8,93.6 106.1,93.1 106.4,92.9 106.6,92.8 106.9,92.8 107.1,92.4 107.4,92.0 107.7,91.6 107.9,91.6 108.2,91.3 108.5,91.2 108.7,91.0 109.0,90.9 109.3,90.9 109.5,90.4 109.8,89.8 110.1,89.5 110.3,89.6 110.6,89.8 110.8,89.5 111.1,89.0 111.4,88.6 111.6,88.1 111.9,87.6 112.2,87.4 112.4,87.2 112.7,87.3 113.0,86.7 113.2,86.5 113.5,86.1 113.7,86.0 114.0,85.6 114.3,84.9 114.5,84.7 114.8,84.8 115.1,84.8 115.3,84.8 115.6,84.2 115.9,84.1 116.1,83.8 116.4,83.6 116.7,83.3 116.9,83.2 117.2,83.4 117.4,83.5 117.7,83.5 118.0,83.7 118.2,83.7 118.5,83.6 118.8,83.6 119.0,84.0 119.3,84.4 119.6,84.6 119.8,84.8 120.1,85.2 120.3,85.5 120.6,86.0 120.9,86.1 121.1,86.4 121.4,86.7 121.7,87.2 121.9,87.8 122.2,88.1 122.5,88.4 122.7,88.7 123.0,89.0 123.3,89.2 123.5,89.3 123.8,89.5 124.0,90.0 124.3,90.4 124.6,91.0 124.8,91.4 125.1,91.8 125.4,92.1 125.6,92.2 125.9,92.4 126.2,92.6 126.4,92.7 126.7,92.7 126.9,92.8 127.2,93.1 127.5,93.3 127.7,93.3 128.0,93.5 128.3,93.4 128.5,93.6 128.8,93.5 129.1,93.8 129.3,93.6 129.6,93.8 129.8,94.0 130.1,94.4 130.4,94.4 130.6,94.4 130.9,94.3 131.2,94.3 131.4,94.2 131.7,94.4 132.0,94.8 132.2,94.8 132.5,95.0 132.8,94.7 133.0,94.8 133.3,94.7 133.5,95.2 133.8,95.3 134.1,95.1 134.3,95.0 134.6,95.2 134.9,95.4 135.1,95.2 135.4,95.2 135.7,95.4 135.9,95.7 136.2,95.7 136.4,96.0 136.7,96.0 137.0,96.2 137.2,96.0 137.5,96.0 137.8,96.5 138.0,96.6 138.3,96.5 138.6,96.1 138.8,95.9 139.1,96.0 139.4,96.1 139.6,96.1 139.9,96.5 140.1,96.4 140.4,96.5 140.7,96.4 140.9,96.1 141.2,96.1" fill="none" stroke="#30e830" stroke-width="1.1" stroke-linejoin="round"/>
<polyline points="30.6,85.2 30.9,85.2 31.1,85.4 31.4,85.3 31.7,85.2 31.9,85.2 32.2,84.9 32.4,84.7 32.7,84.9 33.0,85.0 33.2,85.2 33.5,85.2 33.8,85.5 34.0,85.5 34.3,85.2 34.6,85.0 34.8,84.9 35.1,85.1 35.4,85.1 35.6,85.3 35.9,85.3 36.1,85.4 36.4,85.6 36.7,85.7 36.9,85.3 37.2,85.2 37.5,84.8 37.7,84.8 38.0,84.8 38.3,84.8 38.5,85.0 38.8,85.1 39.0,85.1 39.3,85.0 39.6,84.8 39.8,85.1 40.1,85.3 40.4,85.0 40.6,84.7 40.9,84.6 41.2,85.1 41.4,85.4 41.7,85.5 42.0,85.4 42.2,85.2 42.5,85.1 42.7,85.0 43.0,84.9 43.3,84.8 43.5,84.8 43.8,84.8 44.1,84.9 44.3,84.9 44.6,85.2 44.9,85.0 45.1,84.9 45.4,84.9 45.6,85.2 45.9,85.0 46.2,84.8 46.4,84.9 46.7,85.0 47.0,85.0 47.2,85.2 47.5,85.2 47.8,85.1 48.0,84.6 48.3,84.5 48.5,84.7 48.8,84.8 49.1,84.7 49.3,84.3 49.6,84.4 49.9,84.6 50.1,84.7 50.4,84.8 50.7,84.6 50.9,84.7 51.2,84.7 51.5,84.8 51.7,84.7 52.0,84.6 52.2,84.5 52.5,84.4 52.8,84.4 53.0,84.4 53.3,84.8 53.6,84.7 53.8,84.6 54.1,84.5 54.4,84.3 54.6,84.3 54.9,84.4 55.1,84.5 55.4,84.4 55.7,84.2 55.9,83.9 56.2,84.1 56.5,84.1 56.7,84.4 57.0,84.1 57.3,84.1 57.5,84.2 57.8,84.5 58.1,84.2 58.3,84.3 58.6,84.1 58.8,84.2 59.1,84.1 59.4,84.0 59.6,84.1 59.9,83.9 60.2,83.9 60.4,83.9 60.7,84.0 61.0,83.8 61.2,83.7 61.5,83.7 61.7,84.0 62.0,84.0 62.3,84.1 62.5,83.9 62.8,83.7 63.1,83.5 63.3,83.3 63.6,83.5 63.9,83.5 64.1,83.5 64.4,83.3 64.7,83.5 64.9,83.5 65.2,83.4 65.4,83.1 65.7,82.9 66.0,82.8 66.2,82.6 66.5,82.1 66.8,82.3 67.0,81.9 67.3,82.0 67.6,81.7 67.8,81.7 68.1,81.6 68.3,81.4 68.6,81.0 68.9,80.9 69.1,80.5 69.4,80.4 69.7,80.4 69.9,80.4 70.2,80.4 70.5,80.3 70.7,80.0 71.0,79.7 71.3,79.3 71.5,79.3 71.8,79.1 72.0,78.9 72.3,78.3 72.6,78.0 72.8,77.6 73.1,77.2 73.4,76.6 73.6,75.8 73.9,74.9 74.2,74.0 74.4,73.1 74.7,71.9 74.9,70.1 75.2,67.7 75.5,65.2 75.7,62.3 76.0,59.0 76.3,55.4 76.5,51.7 76.8,48.6 77.1,45.3 77.3,42.8 77.6,41.9 77.8,42.4 78.1,44.5 78.4,47.2 78.6,50.9 78.9,54.4 79.2,58.1 79.4,61.7 79.7,65.0 80.0,67.7 80.2,69.6 80.5,71.5 80.8,73.0 81.0,74.3 81.3,74.8 81.5,75.4 81.8,75.6 82.1,76.2 82.3,76.5 82.6,76.7 82.9,76.7 83.1,76.9 83.4,77.1 83.7,77.0 83.9,76.5 84.2,76.0 84.4,75.3 84.7,74.9 85.0,74.5 85.2,73.7 85.5,72.4 85.8,70.3 86.0,68.2 86.3,65.4 86.6,61.8 86.8,57.2 87.1,52.2 87.4,46.5 87.6,40.5 87.9,33.7 88.1,26.9 88.4,20.7 88.7,16.8 88.9,15.2 89.2,16.7 89.5,20.5 89.7,26.6 90.0,33.2 90.3,39.8 90.5,46.1 90.8,51.7 91.0,56.9 91.3,60.9 91.6,64.5 91.8,66.9 92.1,69.0 92.4,70.1 92.6,71.1 92.9,71.8 93.2,72.3 93.4,72.6 93.7,72.5 94.0,72.1 94.2,71.8 94.5,71.4 94.7,71.0 95.0,70.4 95.3,70.1 95.5,69.4 95.8,68.9 96.1,68.9 96.3,69.6 96.6,70.0 96.9,70.7 97.1,71.2 97.4,72.1 97.6,72.8 97.9,73.7 98.2,74.7 98.4,75.5 98.7,76.2 99.0,76.9 99.2,77.1 99.5,77.6 99.8,78.0 100.0,78.5 100.3,79.0 100.5,78.9 100.8,79.1 101.1,79.1 101.3,79.3 101.6,79.5 101.9,79.6 102.1,79.7 102.4,80.0 102.7,80.1 102.9,80.1 103.2,80.1 103.5,79.9 103.7,79.6 104.0,79.6 104.2,79.9 104.5,80.1 104.8,79.8 105.0,79.4 105.3,79.1 105.6,78.9 105.8,78.7 106.1,78.9 106.4,78.6 106.6,78.7 106.9,78.7 107.1,78.8 107.4,78.6 107.7,78.2 107.9,77.5 108.2,77.3 108.5,76.9 108.7,77.0 109.0,76.8 109.3,76.5 109.5,76.1 109.8,75.7 110.1,75.3 110.3,75.3 110.6,75.2 110.8,75.0 111.1,74.6 111.4,74.2 111.6,74.1 111.9,73.9 112.2,73.9 112.4,73.7 112.7,73.1 113.0,72.5 113.2,71.9 113.5,71.6 113.7,71.3 114.0,71.3 114.3,71.4 114.5,71.1 114.8,70.8 115.1,70.2 115.3,70.0 115.6,69.5 115.9,69.2 116.1,69.1 116.4,69.1 116.7,69.1 116.9,68.9 117.2,68.7 117.4,68.7 117.7,68.7 118.0,69.0 118.2,68.9 118.5,69.2 118.8,69.4 119.0,70.0 119.3,70.3 119.6,70.6 119.8,70.6 120.1,70.5 120.3,70.8 120.6,71.5 120.9,72.3 121.1,72.3 121.4,72.4 121.7,72.5 121.9,73.1 122.2,73.6 122.5,74.0 122.7,74.4 123.0,74.7 123.3,74.8 123.5,75.0 123.8,75.2 124.0,75.9 124.3,76.1 124.6,76.4 124.8,76.6 125.1,77.1 125.4,77.5 125.6,77.5 125.9,77.8 126.2,78.0 126.4,78.6 126.7,78.8 126.9,79.0 127.2,78.8 127.5,78.9 127.7,79.0 128.0,79.2 128.3,79.5 128.5,79.5 128.8,79.9 129.1,80.1 129.3,80.0 129.6,80.1 129.8,79.9 130.1,80.2 130.4,80.0 130.6,80.1 130.9,80.0 131.2,80.0 131.4,79.8 131.7,80.1 132.0,80.5 132.2,80.8 132.5,80.9 132.8,80.7 133.0,80.4 133.3,80.5 133.5,80.7 133.8,81.1 134.1,81.3 134.3,81.3 134.6,81.3 134.9,80.8 135.1,81.0 135.4,81.0 135.7,81.3 135.9,81.4 136.2,81.3 136.4,81.3 136.7,81.6 137.0,81.9 137.2,82.2 137.5,82.0 137.8,82.0 138.0,82.0 138.3,82.2 138.6,82.1 138.8,82.3 139.1,81.9 139.4,81.9 139.6,81.4 139.9,81.2 140.1,81.5 140.4,82.1 140.7,82.3 140.9,82.1 141.2,81.9" fill="none" stroke="#3030ff" stroke-width="1.1" stroke-linejoin="round"/>
<rect x="30.6" y="11.6" width="110.6" height="116.9" fill="none" stroke="#808080" stroke-width="0.8"/>
<line x1="41.7" y1="128.5" x2="41.7" y2="130.7" stroke="#808080" stroke-width="0.6"/><line x1="52.7" y1="128.5" x2="52.7" y2="129.7" stroke="#808080" stroke-width="0.6"/><line x1="63.8" y1="128.5" x2="63.8" y2="130.7" stroke="#808080" stroke-width="0.6"/><line x1="74.8" y1="128.5" x2="74.8" y2="129.7" stroke="#808080" stroke-width="0.6"/><line x1="85.9" y1="128.5" x2="85.9" y2="130.7" stroke="#808080" stroke-width="0.6"/><line x1="97.0" y1="128.5" x2="97.0" y2="129.7" stroke="#808080" stroke-width="0.6"/><line x1="108.0" y1="128.5" x2="108.0" y2="130.7" stroke="#808080" stroke-width="0.6"/><line x1="119.1" y1="128.5" x2="119.1" y2="129.7" stroke="#808080" stroke-width="0.6"/><line x1="130.1" y1="128.5" x2="130.1" y2="130.7" stroke="#808080" stroke-width="0.6"/>
<text class="t" x="41.7" y="136.6" text-anchor="middle">320</text><text class="t" x="63.8" y="136.6" text-anchor="middle">360</text><text class="t" x="85.9" y="136.6" text-anchor="middle">400</text><text class="t" x="108.0" y="136.6" text-anchor="middle">440</text><text class="t" x="130.1" y="136.6" text-anchor="middle">480</text>
<text class="l" x="86" y="150.3" text-anchor="middle">Raman Shift (cm<tspan font-size="5.5" dy="-3.2">-1</tspan><tspan dy="3.2">)</tspan></text>
<text class="l" transform="translate(20.3,75.7) rotate(-90)" text-anchor="middle">Intensity (a.u.)</text>
<line x1="96" y1="19.5" x2="112.2" y2="19.5" stroke="#ff2a2a" stroke-width="1.2"/><text class="g" x="114.3" y="22.0">wafer-1</text>
<line x1="96" y1="28.2" x2="112.2" y2="28.2" stroke="#ff9a30" stroke-width="1.2"/><text class="g" x="114.3" y="30.7">wafer-2</text>
<line x1="96" y1="36.8" x2="112.2" y2="36.8" stroke="#30e830" stroke-width="1.2"/><text class="g" x="114.3" y="39.3">wafer-3</text>
<line x1="96" y1="45.5" x2="112.2" y2="45.5" stroke="#3030ff" stroke-width="1.2"/><text class="g" x="114.3" y="48.0">wafer-4</text>
<text class="k" x="76.6" y="19.6" font-size="8">A<tspan font-size="5.4" dy="1.8">1g</tspan></text>
<text class="k" x="67" y="39" font-size="8">E<tspan font-size="5.4" dy="1.8">2g</tspan></text>
<text class="pb" x="6.6" y="12.6">a</text>
<polyline points="30.6,280.2 30.9,280.3 31.2,280.2 31.4,280.2 31.7,280.0 32.0,280.1 32.3,280.2 32.5,280.3 32.8,280.2 33.1,280.2 33.4,280.1 33.6,280.2 33.9,280.2 34.2,280.3 34.5,280.4 34.8,280.3 35.0,280.2 35.3,280.2 35.6,280.2 35.9,280.2 36.1,280.1 36.4,280.1 36.7,280.1 37.0,280.1 37.2,280.1 37.5,280.1 37.8,280.0 38.1,280.0 38.3,280.0 38.6,279.9 38.9,279.9 39.2,279.8 39.5,279.8 39.7,279.8 40.0,279.9 40.3,279.9 40.6,279.8 40.8,279.8 41.1,279.8 41.4,279.9 41.7,279.8 41.9,279.8 42.2,279.8 42.5,279.8 42.8,279.7 43.1,279.8 43.3,279.7 43.6,279.8 43.9,279.7 44.2,279.7 44.4,279.8 44.7,279.7 45.0,279.7 45.3,279.6 45.5,279.6 45.8,279.6 46.1,279.6 46.4,279.7 46.6,279.7 46.9,279.7 47.2,279.5 47.5,279.6 47.8,279.5 48.0,279.5 48.3,279.3 48.6,279.3 48.9,279.4 49.1,279.4 49.4,279.3 49.7,279.2 50.0,279.3 50.2,279.3 50.5,279.2 50.8,279.2 51.1,279.2 51.4,279.2 51.6,279.1 51.9,279.0 52.2,279.0 52.5,279.0 52.7,279.0 53.0,278.9 53.3,278.9 53.6,279.0 53.8,279.0 54.1,278.9 54.4,278.9 54.7,278.8 54.9,278.9 55.2,278.7 55.5,278.7 55.8,278.6 56.1,278.5 56.3,278.5 56.6,278.4 56.9,278.4 57.2,278.4 57.4,278.4 57.7,278.4 58.0,278.4 58.3,278.2 58.5,278.2 58.8,278.0 59.1,278.0 59.4,277.9 59.7,277.9 59.9,277.8 60.2,277.9 60.5,277.9 60.8,277.8 61.0,277.6 61.3,277.5 61.6,277.5 61.9,277.4 62.1,277.3 62.4,277.1 62.7,277.0 63.0,277.0 63.2,277.0 63.5,276.9 63.8,276.7 64.1,276.6 64.4,276.5 64.6,276.4 64.9,276.3 65.2,276.1 65.5,276.0 65.7,275.8 66.0,275.6 66.3,275.4 66.6,275.2 66.8,275.1 67.1,274.9 67.4,274.7 67.7,274.5 68.0,274.2 68.2,274.0 68.5,273.8 68.8,273.6 69.1,273.2 69.3,272.8 69.6,272.5 69.9,272.1 70.2,271.6 70.4,271.2 70.7,270.6 71.0,270.2 71.3,269.7 71.6,269.2 71.8,268.6 72.1,267.9 72.4,267.3 72.7,266.6 72.9,265.8 73.2,265.0 73.5,264.2 73.8,263.4 74.0,262.6 74.3,261.7 74.6,260.7 74.9,259.6 75.1,258.5 75.4,257.5 75.7,256.3 76.0,255.0 76.3,253.6 76.5,252.2 76.8,250.8 77.1,249.4 77.4,248.0 77.6,246.4 77.9,244.9 78.2,243.2 78.5,241.6 78.7,240.0 79.0,238.2 79.3,236.3 79.6,234.5 79.9,232.7 80.1,230.8 80.4,228.9 80.7,227.1 81.0,225.1 81.2,223.2 81.5,221.4 81.8,219.6 82.1,217.8 82.3,215.8 82.6,213.9 82.9,212.1 83.2,210.4 83.4,208.7 83.7,207.2 84.0,205.8 84.3,204.4 84.6,203.0 84.8,201.8 85.1,200.8 85.4,199.8 85.7,199.1 85.9,198.4 86.2,197.9 86.5,197.5 86.8,197.5 87.0,197.5 87.3,197.9 87.6,198.2 87.9,198.7 88.2,199.3 88.4,200.3 88.7,201.4 89.0,202.5 89.3,203.9 89.5,205.4 89.8,207.0 90.1,208.6 90.4,210.3 90.6,212.0 90.9,213.8 91.2,215.6 91.5,217.6 91.7,219.4 92.0,221.2 92.3,223.1 92.6,224.9 92.9,226.8 93.1,228.5 93.4,230.3 93.7,231.9 94.0,233.6 94.2,235.3 94.5,236.9 94.8,238.4 95.1,239.7 95.3,241.2 95.6,242.5 95.9,243.9 96.2,245.1 96.5,246.4 96.7,247.7 97.0,248.8 97.3,250.0 97.6,251.0 97.8,252.1 98.1,253.1 98.4,254.1 98.7,255.0 98.9,255.8 99.2,256.5 99.5,257.3 99.8,258.0 100.0,258.9 100.3,259.6 100.6,260.3 100.9,261.0 101.2,261.5 101.4,262.1 101.7,262.7 102.0,263.3 102.3,263.8 102.5,264.3 102.8,264.8 103.1,265.3 103.4,265.8 103.6,266.3 103.9,266.7 104.2,267.0 104.5,267.4 104.8,267.8 105.0,268.2 105.3,268.6 105.6,268.8 105.9,269.2 106.1,269.4 106.4,269.7 106.7,269.9 107.0,270.3 107.2,270.5 107.5,270.8 107.8,270.9 108.1,271.2 108.4,271.4 108.6,271.8 108.9,271.9 109.2,272.0 109.5,271.9 109.7,270.5 110.0,267.7 110.3,266.4 110.6,268.5 110.8,271.5 111.1,273.0 111.4,273.5 111.7,273.6 111.9,273.7 112.2,273.9 112.5,274.0 112.8,274.2 113.1,274.4 113.3,274.5 113.6,274.5 113.9,274.6 114.2,274.7 114.4,275.0 114.7,275.2 115.0,275.2 115.3,275.3 115.5,275.4 115.8,275.4 116.1,275.6 116.4,275.7 116.7,275.8 116.9,275.8 117.2,275.9 117.5,276.0 117.8,276.1 118.0,276.2 118.3,276.2 118.6,276.3 118.9,276.4 119.1,276.4 119.4,276.5 119.7,276.6 120.0,276.7 120.2,276.7 120.5,276.8 120.8,276.9 121.1,276.9 121.4,277.0 121.6,277.2 121.9,277.2 122.2,277.3 122.5,277.2 122.7,277.4 123.0,277.4 123.3,277.4 123.6,277.5 123.8,277.5 124.1,277.4 124.4,277.5 124.7,277.6 125.0,277.7 125.2,277.8 125.5,277.8 125.8,277.9 126.1,277.9 126.3,278.0 126.6,278.0 126.9,278.1 127.2,278.1 127.4,278.1 127.7,278.1 128.0,278.1 128.3,278.1 128.5,278.2 128.8,278.3 129.1,278.3 129.4,278.4 129.7,278.6 129.9,278.6 130.2,278.6 130.5,278.5 130.8,278.6 131.0,278.6 131.3,278.6 131.6,278.7 131.9,278.7 132.1,278.7 132.4,278.7 132.7,278.7 133.0,278.8 133.3,278.8 133.5,278.9 133.8,278.9 134.1,278.9 134.4,278.9 134.6,278.9 134.9,278.9 135.2,278.9 135.5,278.9 135.7,279.0 136.0,279.0 136.3,279.0 136.6,279.0 136.8,279.1 137.1,279.0 137.4,279.1 137.7,279.1 138.0,279.1 138.2,279.1 138.5,279.1 138.8,279.1 139.1,279.2 139.3,279.2 139.6,279.3 139.9,279.2 140.2,279.2 140.4,279.3 140.7,279.3 141.0,279.3" fill="none" stroke="#ff2a2a" stroke-width="1.1" stroke-linejoin="round"/>
<polyline points="30.6,271.2 30.9,271.1 31.2,271.0 31.4,271.1 31.7,271.1 32.0,271.1 32.3,271.2 32.5,271.2 32.8,271.3 33.1,271.3 33.4,271.3 33.6,271.3 33.9,271.3 34.2,271.2 34.5,271.2 34.8,271.1 35.0,271.0 35.3,271.0 35.6,271.0 35.9,271.0 36.1,271.0 36.4,271.1 36.7,271.1 37.0,271.1 37.2,271.0 37.5,270.9 37.8,270.9 38.1,270.9 38.3,271.0 38.6,271.0 38.9,270.9 39.2,271.0 39.5,270.9 39.7,270.9 40.0,270.9 40.3,271.0 40.6,270.9 40.8,270.9 41.1,270.9 41.4,271.0 41.7,271.0 41.9,270.9 42.2,270.8 42.5,270.8 42.8,270.8 43.1,270.9 43.3,270.9 43.6,270.9 43.9,270.8 44.2,270.7 44.4,270.7 44.7,270.7 45.0,270.7 45.3,270.7 45.5,270.6 45.8,270.6 46.1,270.5 46.4,270.6 46.6,270.6 46.9,270.6 47.2,270.5 47.5,270.5 47.8,270.6 48.0,270.6 48.3,270.5 48.6,270.5 48.9,270.4 49.1,270.4 49.4,270.4 49.7,270.4 50.0,270.2 50.2,270.1 50.5,270.2 50.8,270.2 51.1,270.3 51.4,270.4 51.6,270.3 51.9,270.2 52.2,270.1 52.5,270.2 52.7,270.1 53.0,270.0 53.3,270.0 53.6,270.0 53.8,270.0 54.1,269.9 54.4,269.8 54.7,269.8 54.9,269.7 55.2,269.7 55.5,269.7 55.8,269.7 56.1,269.7 56.3,269.7 56.6,269.6 56.9,269.5 57.2,269.4 57.4,269.4 57.7,269.4 58.0,269.2 58.3,269.1 58.5,269.1 58.8,269.0 59.1,269.0 59.4,269.0 59.7,268.9 59.9,268.9 60.2,268.8 60.5,268.7 60.8,268.7 61.0,268.6 61.3,268.6 61.6,268.5 61.9,268.5 62.1,268.4 62.4,268.3 62.7,268.1 63.0,268.0 63.2,268.0 63.5,267.9 63.8,267.8 64.1,267.7 64.4,267.6 64.6,267.4 64.9,267.3 65.2,267.1 65.5,267.0 65.7,266.8 66.0,266.7 66.3,266.6 66.6,266.4 66.8,266.1 67.1,265.8 67.4,265.6 67.7,265.3 68.0,265.2 68.2,265.0 68.5,264.7 68.8,264.4 69.1,264.2 69.3,263.9 69.6,263.5 69.9,263.1 70.2,262.7 70.4,262.2 70.7,261.8 71.0,261.3 71.3,260.8 71.6,260.1 71.8,259.6 72.1,259.0 72.4,258.4 72.7,257.8 72.9,256.9 73.2,256.1 73.5,255.2 73.8,254.4 74.0,253.5 74.3,252.7 74.6,251.8 74.9,250.7 75.1,249.6 75.4,248.5 75.7,247.2 76.0,246.1 76.3,244.7 76.5,243.3 76.8,241.9 77.1,240.5 77.4,239.1 77.6,237.5 77.9,235.8 78.2,234.2 78.5,232.6 78.7,230.9 79.0,229.1 79.3,227.3 79.6,225.5 79.9,223.7 80.1,221.8 80.4,220.0 80.7,218.0 81.0,216.0 81.2,214.1 81.5,212.2 81.8,210.4 82.1,208.6 82.3,206.7 82.6,205.0 82.9,203.1 83.2,201.4 83.4,199.8 83.7,198.3 84.0,196.7 84.3,195.4 84.6,194.1 84.8,192.9 85.1,191.9 85.4,190.9 85.7,190.2 85.9,189.5 86.2,189.0 86.5,188.6 86.8,188.5 87.0,188.5 87.3,188.6 87.6,189.1 87.9,189.6 88.2,190.4 88.4,191.3 88.7,192.4 89.0,193.7 89.3,195.0 89.5,196.4 89.8,197.9 90.1,199.4 90.4,201.2 90.6,203.0 90.9,204.9 91.2,206.6 91.5,208.5 91.7,210.3 92.0,212.2 92.3,214.0 92.6,215.9 92.9,217.7 93.1,219.4 93.4,221.1 93.7,222.8 94.0,224.6 94.2,226.3 94.5,227.9 94.8,229.4 95.1,230.7 95.3,232.2 95.6,233.6 95.9,235.0 96.2,236.3 96.5,237.6 96.7,238.7 97.0,239.9 97.3,241.0 97.6,242.0 97.8,243.1 98.1,244.1 98.4,245.0 98.7,245.9 98.9,246.7 99.2,247.6 99.5,248.4 99.8,249.2 100.0,249.9 100.3,250.6 100.6,251.3 100.9,251.9 101.2,252.5 101.4,253.1 101.7,253.7 102.0,254.3 102.3,254.8 102.5,255.4 102.8,255.9 103.1,256.4 103.4,256.8 103.6,257.2 103.9,257.6 104.2,258.1 104.5,258.5 104.8,258.9 105.0,259.1 105.3,259.4 105.6,259.7 105.9,260.0 106.1,260.4 106.4,260.7 106.7,260.9 107.0,261.2 107.2,261.6 107.5,261.8 107.8,262.1 108.1,262.2 108.4,262.6 108.6,262.7 108.9,262.9 109.2,263.1 109.5,262.8 109.7,261.3 110.0,258.6 110.3,257.4 110.6,259.7 110.8,262.6 111.1,264.0 111.4,264.3 111.7,264.5 111.9,264.8 112.2,265.0 112.5,265.2 112.8,265.3 113.1,265.3 113.3,265.4 113.6,265.5 113.9,265.6 114.2,265.8 114.4,265.9 114.7,266.2 115.0,266.3 115.3,266.3 115.5,266.3 115.8,266.4 116.1,266.5 116.4,266.5 116.7,266.7 116.9,266.8 117.2,267.0 117.5,267.1 117.8,267.1 118.0,267.1 118.3,267.2 118.6,267.4 118.9,267.5 119.1,267.5 119.4,267.6 119.7,267.6 120.0,267.7 120.2,267.8 120.5,267.9 120.8,267.9 121.1,267.9 121.4,267.9 121.6,268.0 121.9,268.1 122.2,268.1 122.5,268.3 122.7,268.4 123.0,268.4 123.3,268.3 123.6,268.4 123.8,268.4 124.1,268.5 124.4,268.5 124.7,268.6 125.0,268.7 125.2,268.7 125.5,268.8 125.8,268.8 126.1,268.9 126.3,268.9 126.6,269.0 126.9,269.0 127.2,269.1 127.4,269.1 127.7,269.1 128.0,269.1 128.3,269.1 128.5,269.1 128.8,269.1 129.1,269.2 129.4,269.2 129.7,269.3 129.9,269.5 130.2,269.6 130.5,269.6 130.8,269.5 131.0,269.5 131.3,269.5 131.6,269.6 131.9,269.6 132.1,269.7 132.4,269.7 132.7,269.7 133.0,269.6 133.3,269.7 133.5,269.7 133.8,269.8 134.1,269.8 134.4,269.8 134.6,269.8 134.9,269.9 135.2,269.9 135.5,269.9 135.7,269.9 136.0,270.0 136.3,270.0 136.6,270.1 136.8,270.1 137.1,270.1 137.4,270.1 137.7,270.1 138.0,270.2 138.2,270.2 138.5,270.1 138.8,270.1 139.1,270.1 139.3,270.2 139.6,270.3 139.9,270.3 140.2,270.4 140.4,270.3 140.7,270.3 141.0,270.3" fill="none" stroke="#ff9a30" stroke-width="1.1" stroke-linejoin="round"/>
<polyline points="30.6,262.1 30.9,262.1 31.2,262.1 31.4,262.1 31.7,262.1 32.0,262.0 32.3,262.0 32.5,262.0 32.8,262.0 33.1,262.1 33.4,262.1 33.6,262.1 33.9,262.1 34.2,262.1 34.5,262.1 34.8,262.0 35.0,262.1 35.3,262.2 35.6,262.1 35.9,262.1 36.1,262.0 36.4,262.0 36.7,261.9 37.0,261.8 37.2,261.8 37.5,261.9 37.8,261.9 38.1,261.9 38.3,261.8 38.6,261.8 38.9,261.7 39.2,261.7 39.5,261.8 39.7,261.9 40.0,261.8 40.3,261.7 40.6,261.7 40.8,261.7 41.1,261.8 41.4,261.8 41.7,261.7 41.9,261.6 42.2,261.6 42.5,261.6 42.8,261.6 43.1,261.6 43.3,261.6 43.6,261.6 43.9,261.6 44.2,261.6 44.4,261.6 44.7,261.6 45.0,261.5 45.3,261.6 45.5,261.6 45.8,261.6 46.1,261.5 46.4,261.4 46.6,261.4 46.9,261.4 47.2,261.4 47.5,261.4 47.8,261.4 48.0,261.4 48.3,261.4 48.6,261.4 48.9,261.3 49.1,261.3 49.4,261.3 49.7,261.3 50.0,261.3 50.2,261.2 50.5,261.3 50.8,261.3 51.1,261.1 51.4,261.0 51.6,261.0 51.9,261.0 52.2,261.0 52.5,261.1 52.7,261.0 53.0,261.0 53.3,260.8 53.6,260.7 53.8,260.7 54.1,260.7 54.4,260.8 54.7,260.6 54.9,260.6 55.2,260.5 55.5,260.5 55.8,260.5 56.1,260.4 56.3,260.5 56.6,260.4 56.9,260.4 57.2,260.2 57.4,260.2 57.7,260.2 58.0,260.1 58.3,260.1 58.5,260.0 58.8,260.0 59.1,259.9 59.4,259.9 59.7,259.9 59.9,259.9 60.2,259.7 60.5,259.6 60.8,259.7 61.0,259.7 61.3,259.5 61.6,259.3 61.9,259.2 62.1,259.2 62.4,259.1 62.7,259.0 63.0,258.9 63.2,258.9 63.5,258.7 63.8,258.6 64.1,258.5 64.4,258.4 64.6,258.3 64.9,258.2 65.2,258.1 65.5,257.9 65.7,257.8 66.0,257.7 66.3,257.5 66.6,257.3 66.8,257.0 67.1,256.8 67.4,256.6 67.7,256.4 68.0,256.2 68.2,255.9 68.5,255.6 68.8,255.3 69.1,255.0 69.3,254.7 69.6,254.3 69.9,254.0 70.2,253.5 70.4,253.2 70.7,252.6 71.0,252.1 71.3,251.5 71.6,251.0 71.8,250.5 72.1,249.9 72.4,249.3 72.7,248.6 72.9,247.8 73.2,247.1 73.5,246.2 73.8,245.4 74.0,244.4 74.3,243.6 74.6,242.5 74.9,241.4 75.1,240.2 75.4,239.2 75.7,238.1 76.0,236.9 76.3,235.6 76.5,234.2 76.8,232.8 77.1,231.3 77.4,229.8 77.6,228.3 77.9,226.8 78.2,225.1 78.5,223.4 78.7,221.8 79.0,220.1 79.3,218.3 79.6,216.5 79.9,214.7 80.1,212.8 80.4,210.9 80.7,209.0 81.0,207.1 81.2,205.2 81.5,203.2 81.8,201.3 82.1,199.5 82.3,197.7 82.6,195.8 82.9,194.0 83.2,192.3 83.4,190.7 83.7,189.2 84.0,187.8 84.3,186.3 84.6,185.0 84.8,183.7 85.1,182.7 85.4,181.8 85.7,181.0 85.9,180.3 86.2,179.8 86.5,179.4 86.8,179.3 87.0,179.5 87.3,179.7 87.6,180.1 87.9,180.6 88.2,181.3 88.4,182.2 88.7,183.3 89.0,184.6 89.3,185.9 89.5,187.3 89.8,188.9 90.1,190.5 90.4,192.2 90.6,193.9 90.9,195.6 91.2,197.4 91.5,199.2 91.7,201.2 92.0,203.0 92.3,204.9 92.6,206.8 92.9,208.6 93.1,210.4 93.4,212.1 93.7,213.9 94.0,215.5 94.2,217.1 94.5,218.6 94.8,220.2 95.1,221.7 95.3,223.2 95.6,224.5 95.9,225.9 96.2,227.1 96.5,228.4 96.7,229.6 97.0,230.8 97.3,232.0 97.6,233.0 97.8,234.1 98.1,235.0 98.4,236.0 98.7,236.9 98.9,237.7 99.2,238.5 99.5,239.3 99.8,240.1 100.0,240.9 100.3,241.6 100.6,242.3 100.9,242.9 101.2,243.5 101.4,244.0 101.7,244.7 102.0,245.2 102.3,245.8 102.5,246.2 102.8,246.7 103.1,247.2 103.4,247.6 103.6,248.1 103.9,248.6 104.2,249.1 104.5,249.4 104.8,249.7 105.0,250.0 105.3,250.4 105.6,250.8 105.9,251.0 106.1,251.2 106.4,251.5 106.7,251.8 107.0,252.1 107.2,252.4 107.5,252.8 107.8,253.1 108.1,253.3 108.4,253.4 108.6,253.6 108.9,253.9 109.2,254.0 109.5,253.7 109.7,252.1 110.0,249.3 110.3,248.2 110.6,250.5 110.8,253.4 111.1,254.9 111.4,255.3 111.7,255.5 111.9,255.7 112.2,255.9 112.5,256.0 112.8,256.1 113.1,256.2 113.3,256.3 113.6,256.4 113.9,256.6 114.2,256.8 114.4,257.0 114.7,257.0 115.0,257.1 115.3,257.2 115.5,257.2 115.8,257.3 116.1,257.4 116.4,257.6 116.7,257.7 116.9,257.7 117.2,257.8 117.5,257.8 117.8,257.9 118.0,258.0 118.3,258.2 118.6,258.2 118.9,258.3 119.1,258.2 119.4,258.4 119.7,258.6 120.0,258.7 120.2,258.8 120.5,258.8 120.8,258.8 121.1,258.8 121.4,258.8 121.6,259.0 121.9,259.0 122.2,259.1 122.5,259.1 122.7,259.2 123.0,259.2 123.3,259.3 123.6,259.3 123.8,259.3 124.1,259.4 124.4,259.4 124.7,259.4 125.0,259.5 125.2,259.6 125.5,259.7 125.8,259.7 126.1,259.9 126.3,259.9 126.6,259.9 126.9,259.9 127.2,259.9 127.4,260.0 127.7,260.0 128.0,260.1 128.3,260.1 128.5,260.1 128.8,260.2 129.1,260.2 129.4,260.2 129.7,260.2 129.9,260.2 130.2,260.2 130.5,260.2 130.8,260.3 131.0,260.4 131.3,260.5 131.6,260.5 131.9,260.4 132.1,260.4 132.4,260.4 132.7,260.5 133.0,260.6 133.3,260.7 133.5,260.7 133.8,260.6 134.1,260.6 134.4,260.7 134.6,260.9 134.9,260.9 135.2,260.9 135.5,261.0 135.7,261.0 136.0,261.1 136.3,261.0 136.6,261.1 136.8,261.0 137.1,261.0 137.4,260.9 137.7,261.0 138.0,261.0 138.2,261.0 138.5,261.0 138.8,261.0 139.1,261.1 139.3,261.1 139.6,261.2 139.9,261.1 140.2,261.1 140.4,261.1 140.7,261.2 141.0,261.3" fill="none" stroke="#30e830" stroke-width="1.1" stroke-linejoin="round"/>
<polyline points="30.6,253.0 30.9,253.1 31.2,253.1 31.4,253.1 31.7,253.0 32.0,252.9 32.3,253.0 32.5,252.9 32.8,252.9 33.1,252.7 33.4,252.7 33.6,252.7 33.9,252.8 34.2,252.9 34.5,252.9 34.8,252.8 35.0,252.7 35.3,252.7 35.6,252.8 35.9,252.9 36.1,252.9 36.4,252.8 36.7,252.7 37.0,252.7 37.2,252.7 37.5,252.7 37.8,252.7 38.1,252.7 38.3,252.7 38.6,252.6 38.9,252.6 39.2,252.6 39.5,252.6 39.7,252.6 40.0,252.6 40.3,252.7 40.6,252.7 40.8,252.7 41.1,252.6 41.4,252.6 41.7,252.6 41.9,252.6 42.2,252.6 42.5,252.5 42.8,252.4 43.1,252.4 43.3,252.4 43.6,252.5 43.9,252.5 44.2,252.5 44.4,252.4 44.7,252.4 45.0,252.4 45.3,252.3 45.5,252.3 45.8,252.2 46.1,252.3 46.4,252.3 46.6,252.3 46.9,252.3 47.2,252.3 47.5,252.2 47.8,252.1 48.0,252.1 48.3,252.2 48.6,252.1 48.9,252.0 49.1,252.0 49.4,252.1 49.7,252.2 50.0,252.1 50.2,252.0 50.5,251.8 50.8,251.8 51.1,251.8 51.4,251.9 51.6,251.8 51.9,251.8 52.2,251.8 52.5,251.9 52.7,251.8 53.0,251.7 53.3,251.6 53.6,251.6 53.8,251.6 54.1,251.6 54.4,251.5 54.7,251.4 54.9,251.5 55.2,251.5 55.5,251.4 55.8,251.3 56.1,251.3 56.3,251.3 56.6,251.2 56.9,251.1 57.2,251.1 57.4,251.0 57.7,251.0 58.0,251.1 58.3,251.1 58.5,251.0 58.8,251.0 59.1,250.9 59.4,250.8 59.7,250.8 59.9,250.8 60.2,250.7 60.5,250.5 60.8,250.4 61.0,250.3 61.3,250.3 61.6,250.1 61.9,250.1 62.1,250.0 62.4,250.0 62.7,249.9 63.0,249.9 63.2,249.8 63.5,249.6 63.8,249.4 64.1,249.3 64.4,249.3 64.6,249.2 64.9,249.0 65.2,248.8 65.5,248.7 65.7,248.5 66.0,248.4 66.3,248.1 66.6,247.9 66.8,247.8 67.1,247.6 67.4,247.4 67.7,247.2 68.0,247.0 68.2,246.8 68.5,246.4 68.8,246.1 69.1,245.7 69.3,245.4 69.6,245.0 69.9,244.7 70.2,244.3 70.4,243.8 70.7,243.3 71.0,242.8 71.3,242.3 71.6,241.7 71.8,241.2 72.1,240.6 72.4,240.1 72.7,239.3 72.9,238.6 73.2,237.9 73.5,237.1 73.8,236.2 74.0,235.2 74.3,234.3 74.6,233.2 74.9,232.2 75.1,231.1 75.4,230.0 75.7,228.9 76.0,227.6 76.3,226.4 76.5,225.0 76.8,223.7 77.1,222.2 77.4,220.8 77.6,219.2 77.9,217.6 78.2,216.0 78.5,214.2 78.7,212.5 79.0,210.8 79.3,209.0 79.6,207.2 79.9,205.3 80.1,203.6 80.4,201.7 80.7,199.8 81.0,197.8 81.2,195.9 81.5,194.0 81.8,192.2 82.1,190.4 82.3,188.5 82.6,186.7 82.9,184.9 83.2,183.2 83.4,181.5 83.7,179.9 84.0,178.4 84.3,177.1 84.6,175.8 84.8,174.8 85.1,173.8 85.4,172.7 85.7,171.9 85.9,171.1 86.2,170.6 86.5,170.2 86.8,170.1 87.0,170.1 87.3,170.4 87.6,170.9 87.9,171.5 88.2,172.2 88.4,173.1 88.7,174.1 89.0,175.3 89.3,176.7 89.5,178.1 89.8,179.6 90.1,181.2 90.4,183.0 90.6,184.8 90.9,186.6 91.2,188.3 91.5,190.2 91.7,192.0 92.0,193.9 92.3,195.7 92.6,197.5 92.9,199.4 93.1,201.2 93.4,203.1 93.7,204.8 94.0,206.5 94.2,207.9 94.5,209.4 94.8,211.0 95.1,212.6 95.3,214.0 95.6,215.4 95.9,216.7 96.2,218.0 96.5,219.2 96.7,220.4 97.0,221.5 97.3,222.8 97.6,223.7 97.8,224.8 98.1,225.8 98.4,226.8 98.7,227.7 98.9,228.5 99.2,229.3 99.5,230.1 99.8,230.8 100.0,231.6 100.3,232.4 100.6,233.1 100.9,233.7 101.2,234.3 101.4,235.0 101.7,235.6 102.0,236.1 102.3,236.6 102.5,237.1 102.8,237.6 103.1,238.0 103.4,238.5 103.6,238.9 103.9,239.4 104.2,239.7 104.5,240.1 104.8,240.4 105.0,240.8 105.3,241.1 105.6,241.5 105.9,241.8 106.1,242.1 106.4,242.4 106.7,242.7 107.0,243.0 107.2,243.3 107.5,243.4 107.8,243.6 108.1,243.9 108.4,244.2 108.6,244.4 108.9,244.5 109.2,244.6 109.5,244.3 109.7,242.9 110.0,240.2 110.3,239.1 110.6,241.3 110.8,244.4 111.1,245.8 111.4,246.2 111.7,246.3 111.9,246.5 112.2,246.7 112.5,246.9 112.8,247.0 113.1,247.1 113.3,247.2 113.6,247.4 113.9,247.5 114.2,247.6 114.4,247.6 114.7,247.7 115.0,247.8 115.3,248.0 115.5,248.2 115.8,248.2 116.1,248.3 116.4,248.3 116.7,248.5 116.9,248.6 117.2,248.7 117.5,248.7 117.8,248.8 118.0,248.9 118.3,249.0 118.6,249.1 118.9,249.1 119.1,249.2 119.4,249.2 119.7,249.4 120.0,249.4 120.2,249.5 120.5,249.5 120.8,249.5 121.1,249.5 121.4,249.6 121.6,249.6 121.9,249.7 122.2,249.9 122.5,249.9 122.7,250.0 123.0,250.0 123.3,250.1 123.6,250.1 123.8,250.2 124.1,250.3 124.4,250.3 124.7,250.4 125.0,250.4 125.2,250.4 125.5,250.4 125.8,250.5 126.1,250.7 126.3,250.7 126.6,250.6 126.9,250.6 127.2,250.7 127.4,250.7 127.7,250.8 128.0,250.8 128.3,250.9 128.5,250.9 128.8,250.9 129.1,251.0 129.4,250.9 129.7,251.1 129.9,251.1 130.2,251.2 130.5,251.2 130.8,251.2 131.0,251.3 131.3,251.3 131.6,251.3 131.9,251.4 132.1,251.4 132.4,251.4 132.7,251.4 133.0,251.4 133.3,251.3 133.5,251.4 133.8,251.5 134.1,251.6 134.4,251.5 134.6,251.5 134.9,251.5 135.2,251.5 135.5,251.5 135.7,251.7 136.0,251.8 136.3,251.9 136.6,251.8 136.8,251.9 137.1,251.8 137.4,251.8 137.7,251.8 138.0,251.8 138.2,251.8 138.5,251.9 138.8,252.0 139.1,252.1 139.3,252.0 139.6,252.0 139.9,251.9 140.2,252.0 140.4,252.0 140.7,252.0 141.0,252.0" fill="none" stroke="#3030ff" stroke-width="1.1" stroke-linejoin="round"/>
<rect x="30.6" y="164.1" width="110.4" height="117.1" fill="none" stroke="#808080" stroke-width="0.8"/>
<line x1="44.4" y1="281.2" x2="44.4" y2="282.4" stroke="#808080" stroke-width="0.6"/><line x1="58.2" y1="281.2" x2="58.2" y2="283.4" stroke="#808080" stroke-width="0.6"/><line x1="72.0" y1="281.2" x2="72.0" y2="282.4" stroke="#808080" stroke-width="0.6"/><line x1="85.8" y1="281.2" x2="85.8" y2="283.4" stroke="#808080" stroke-width="0.6"/><line x1="99.6" y1="281.2" x2="99.6" y2="282.4" stroke="#808080" stroke-width="0.6"/><line x1="113.4" y1="281.2" x2="113.4" y2="283.4" stroke="#808080" stroke-width="0.6"/><line x1="127.2" y1="281.2" x2="127.2" y2="282.4" stroke="#808080" stroke-width="0.6"/>
<text class="t" x="30.6" y="290" text-anchor="middle">550</text><text class="t" x="58.2" y="290" text-anchor="middle">600</text><text class="t" x="85.8" y="290" text-anchor="middle">650</text><text class="t" x="113.4" y="290" text-anchor="middle">700</text><text class="t" x="141.0" y="290" text-anchor="middle">750</text>
<text class="l" x="86" y="302.4" text-anchor="middle">Wavelength (nm)</text>
<text class="l" transform="translate(20.3,228.6) rotate(-90)" text-anchor="middle">Intensity (a.u.)</text>
<line x1="95.6" y1="174.0" x2="111.6" y2="174.0" stroke="#ff2a2a" stroke-width="1.2"/><text class="g" x="113.9" y="176.5">wafer-1</text>
<line x1="95.6" y1="182.6" x2="111.6" y2="182.6" stroke="#ff9a30" stroke-width="1.2"/><text class="g" x="113.9" y="185.1">wafer-2</text>
<line x1="95.6" y1="191.2" x2="111.6" y2="191.2" stroke="#30e830" stroke-width="1.2"/><text class="g" x="113.9" y="193.7">wafer-3</text>
<line x1="95.6" y1="200.0" x2="111.6" y2="200.0" stroke="#3030ff" stroke-width="1.2"/><text class="g" x="113.9" y="202.5">wafer-4</text>
<text class="pr" x="6.3" y="167">b</text>
<rect x="193.8" y="11.3" width="134.2" height="118.1" fill="url(#gr)"/>
<text class="k" x="200.0" y="61.3" font-size="7">A<tspan font-size="4.6" dy="1.5">1g</tspan></text>
<text class="k" x="200.0" y="87.9" font-size="7">E<tspan font-size="4.6" dy="1.5">2g</tspan></text>
<line x1="191.6" y1="11.3" x2="193.8" y2="11.3" stroke="#999" stroke-width="0.6"/><text class="t" x="190.2" y="13.7" text-anchor="end">500</text><line x1="192.6" y1="26.1" x2="193.8" y2="26.1" stroke="#aaa" stroke-width="0.6"/><line x1="191.6" y1="40.8" x2="193.8" y2="40.8" stroke="#999" stroke-width="0.6"/><text class="t" x="190.2" y="43.2" text-anchor="end">450</text><line x1="192.6" y1="55.6" x2="193.8" y2="55.6" stroke="#aaa" stroke-width="0.6"/><line x1="191.6" y1="70.4" x2="193.8" y2="70.4" stroke="#999" stroke-width="0.6"/><text class="t" x="190.2" y="72.7" text-anchor="end">400</text><line x1="192.6" y1="85.1" x2="193.8" y2="85.1" stroke="#aaa" stroke-width="0.6"/><line x1="191.6" y1="99.9" x2="193.8" y2="99.9" stroke="#999" stroke-width="0.6"/><text class="t" x="190.2" y="102.2" text-anchor="end">350</text><line x1="192.6" y1="114.6" x2="193.8" y2="114.6" stroke="#aaa" stroke-width="0.6"/><line x1="191.6" y1="129.4" x2="193.8" y2="129.4" stroke="#999" stroke-width="0.6"/><text class="t" x="190.2" y="131.8" text-anchor="end">300</text>
<line x1="196.6" y1="129.4" x2="196.6" y2="131.6" stroke="#999" stroke-width="0.6"/><text class="t" x="196.6" y="139.6" text-anchor="middle">-1.2</text><line x1="207.3" y1="129.4" x2="207.3" y2="130.6" stroke="#aaa" stroke-width="0.6"/><line x1="218.0" y1="129.4" x2="218.0" y2="131.6" stroke="#999" stroke-width="0.6"/><text class="t" x="218.0" y="139.6" text-anchor="middle">-0.8</text><line x1="228.8" y1="129.4" x2="228.8" y2="130.6" stroke="#aaa" stroke-width="0.6"/><line x1="239.5" y1="129.4" x2="239.5" y2="131.6" stroke="#999" stroke-width="0.6"/><text class="t" x="239.5" y="139.6" text-anchor="middle">-0.4</text><line x1="250.2" y1="129.4" x2="250.2" y2="130.6" stroke="#aaa" stroke-width="0.6"/><line x1="260.9" y1="129.4" x2="260.9" y2="131.6" stroke="#999" stroke-width="0.6"/><text class="t" x="260.9" y="139.6" text-anchor="middle">0.0</text><line x1="271.6" y1="129.4" x2="271.6" y2="130.6" stroke="#aaa" stroke-width="0.6"/><line x1="282.3" y1="129.4" x2="282.3" y2="131.6" stroke="#999" stroke-width="0.6"/><text class="t" x="282.3" y="139.6" text-anchor="middle">0.4</text><line x1="293.0" y1="129.4" x2="293.0" y2="130.6" stroke="#aaa" stroke-width="0.6"/><line x1="303.8" y1="129.4" x2="303.8" y2="131.6" stroke="#999" stroke-width="0.6"/><text class="t" x="303.8" y="139.6" text-anchor="middle">0.8</text><line x1="314.5" y1="129.4" x2="314.5" y2="130.6" stroke="#aaa" stroke-width="0.6"/><line x1="325.2" y1="129.4" x2="325.2" y2="131.6" stroke="#999" stroke-width="0.6"/><text class="t" x="325.2" y="139.6" text-anchor="middle">1.2</text>
<text class="l" x="260.9" y="150.6" text-anchor="middle">Position (cm)</text>
<text class="l" transform="translate(172.8,77.0) rotate(-90)" text-anchor="middle">Raman Shift (cm<tspan font-size="5.5" dy="-3.2">-1</tspan><tspan dy="3.2">)</tspan></text>
<text class="pb" x="158.0" y="12.5">c</text>
<rect x="334.2" y="37.8" width="8.0" height="65.0" fill="url(#cb)"/>
<text x="346.2" y="41.7" font-size="5.8" text-anchor="middle">0</text><text x="346.2" y="57.6" font-size="5.8" text-anchor="middle">1</text><text x="346.2" y="73.6" font-size="5.8" text-anchor="middle">2</text><text x="346.2" y="89.5" font-size="5.8" text-anchor="middle">3</text><text x="346.2" y="105.5" font-size="5.8" text-anchor="middle">4</text>
<path d="M298.86 127.60 A19.70 19.70 0 1 1 313.94 127.60 Z" fill="#c9c578"/>
<line x1="292.1" y1="111.3" x2="316.9" y2="111.3" stroke="#1c1c08" stroke-width="1.3"/><path d="M321.0 111.3 L316.0 109.0 L316.0 113.6 Z" fill="#000"/><text class="k" x="306.1" y="119.4" font-size="7.6" text-anchor="middle" style="font-weight:normal;stroke:#000;stroke-width:0.3px">X</text>
<rect x="392.8" y="11.3" width="134.0" height="118.1" fill="url(#gr)"/>
<text class="k" x="399.0" y="61.3" font-size="7">A<tspan font-size="4.6" dy="1.5">1g</tspan></text>
<text class="k" x="399.0" y="87.9" font-size="7">E<tspan font-size="4.6" dy="1.5">2g</tspan></text>
<line x1="390.6" y1="11.3" x2="392.8" y2="11.3" stroke="#999" stroke-width="0.6"/><text class="t" x="389.2" y="13.7" text-anchor="end">500</text><line x1="391.6" y1="26.1" x2="392.8" y2="26.1" stroke="#aaa" stroke-width="0.6"/><line x1="390.6" y1="40.8" x2="392.8" y2="40.8" stroke="#999" stroke-width="0.6"/><text class="t" x="389.2" y="43.2" text-anchor="end">450</text><line x1="391.6" y1="55.6" x2="392.8" y2="55.6" stroke="#aaa" stroke-width="0.6"/><line x1="390.6" y1="70.4" x2="392.8" y2="70.4" stroke="#999" stroke-width="0.6"/><text class="t" x="389.2" y="72.7" text-anchor="end">400</text><line x1="391.6" y1="85.1" x2="392.8" y2="85.1" stroke="#aaa" stroke-width="0.6"/><line x1="390.6" y1="99.9" x2="392.8" y2="99.9" stroke="#999" stroke-width="0.6"/><text class="t" x="389.2" y="102.2" text-anchor="end">350</text><line x1="391.6" y1="114.6" x2="392.8" y2="114.6" stroke="#aaa" stroke-width="0.6"/><line x1="390.6" y1="129.4" x2="392.8" y2="129.4" stroke="#999" stroke-width="0.6"/><text class="t" x="389.2" y="131.8" text-anchor="end">300</text>
<line x1="395.6" y1="129.4" x2="395.6" y2="131.6" stroke="#999" stroke-width="0.6"/><text class="t" x="395.6" y="139.6" text-anchor="middle">-1.2</text><line x1="406.3" y1="129.4" x2="406.3" y2="130.6" stroke="#aaa" stroke-width="0.6"/><line x1="417.0" y1="129.4" x2="417.0" y2="131.6" stroke="#999" stroke-width="0.6"/><text class="t" x="417.0" y="139.6" text-anchor="middle">-0.8</text><line x1="427.7" y1="129.4" x2="427.7" y2="130.6" stroke="#aaa" stroke-width="0.6"/><line x1="438.4" y1="129.4" x2="438.4" y2="131.6" stroke="#999" stroke-width="0.6"/><text class="t" x="438.4" y="139.6" text-anchor="middle">-0.4</text><line x1="449.1" y1="129.4" x2="449.1" y2="130.6" stroke="#aaa" stroke-width="0.6"/><line x1="459.8" y1="129.4" x2="459.8" y2="131.6" stroke="#999" stroke-width="0.6"/><text class="t" x="459.8" y="139.6" text-anchor="middle">0.0</text><line x1="470.5" y1="129.4" x2="470.5" y2="130.6" stroke="#aaa" stroke-width="0.6"/><line x1="481.2" y1="129.4" x2="481.2" y2="131.6" stroke="#999" stroke-width="0.6"/><text class="t" x="481.2" y="139.6" text-anchor="middle">0.4</text><line x1="491.9" y1="129.4" x2="491.9" y2="130.6" stroke="#aaa" stroke-width="0.6"/><line x1="502.6" y1="129.4" x2="502.6" y2="131.6" stroke="#999" stroke-width="0.6"/><text class="t" x="502.6" y="139.6" text-anchor="middle">0.8</text><line x1="513.3" y1="129.4" x2="513.3" y2="130.6" stroke="#aaa" stroke-width="0.6"/><line x1="524.0" y1="129.4" x2="524.0" y2="131.6" stroke="#999" stroke-width="0.6"/><text class="t" x="524.0" y="139.6" text-anchor="middle">1.2</text>
<text class="l" x="459.8" y="150.6" text-anchor="middle">Position (cm)</text>
<text class="l" transform="translate(371.8,77.0) rotate(-90)" text-anchor="middle">Raman Shift (cm<tspan font-size="5.5" dy="-3.2">-1</tspan><tspan dy="3.2">)</tspan></text>
<text class="pb" x="357.6" y="12.5">e</text>
<rect x="533.8" y="35.2" width="8.4" height="64.3" fill="url(#cb)"/>
<text x="546.2" y="39.1" font-size="5.8" text-anchor="middle">0</text><text x="546.2" y="54.9" font-size="5.8" text-anchor="middle">1</text><text x="546.2" y="70.6" font-size="5.8" text-anchor="middle">2</text><text x="546.2" y="86.4" font-size="5.8" text-anchor="middle">3</text><text x="546.2" y="102.2" font-size="5.8" text-anchor="middle">4</text>
<path d="M497.66 127.60 A19.70 19.70 0 1 1 512.74 127.60 Z" fill="#c9c578"/>
<line x1="505.9" y1="123.9" x2="505.9" y2="99.4" stroke="#1c1c08" stroke-width="1.3"/><path d="M505.9 95.2 L503.6 100.2 L508.2 100.2 Z" fill="#000"/><text class="k" x="512.1" y="112.8" font-size="7.6" text-anchor="middle">Y</text>
<rect x="193.8" y="164.2" width="134.2" height="118.4" fill="url(#gp)"/>
<rect x="193.8" y="164.2" width="134.2" height="118.4" fill="url(#ov)" mask="url(#md)"/><ellipse cx="300.2" cy="221.6" rx="2.6" ry="10" fill="url(#sp)"/>
<line x1="191.6" y1="164.2" x2="193.8" y2="164.2" stroke="#999" stroke-width="0.6"/><text class="t" x="190.2" y="166.5" text-anchor="end">750</text><line x1="192.6" y1="179.0" x2="193.8" y2="179.0" stroke="#aaa" stroke-width="0.6"/><line x1="191.6" y1="193.8" x2="193.8" y2="193.8" stroke="#999" stroke-width="0.6"/><text class="t" x="190.2" y="196.2" text-anchor="end">700</text><line x1="192.6" y1="208.6" x2="193.8" y2="208.6" stroke="#aaa" stroke-width="0.6"/><line x1="191.6" y1="223.4" x2="193.8" y2="223.4" stroke="#999" stroke-width="0.6"/><text class="t" x="190.2" y="225.8" text-anchor="end">650</text><line x1="192.6" y1="238.2" x2="193.8" y2="238.2" stroke="#aaa" stroke-width="0.6"/><line x1="191.6" y1="253.0" x2="193.8" y2="253.0" stroke="#999" stroke-width="0.6"/><text class="t" x="190.2" y="255.3" text-anchor="end">600</text><line x1="192.6" y1="267.8" x2="193.8" y2="267.8" stroke="#aaa" stroke-width="0.6"/><line x1="191.6" y1="282.6" x2="193.8" y2="282.6" stroke="#999" stroke-width="0.6"/><text class="t" x="190.2" y="285.0" text-anchor="end">550</text>
<line x1="196.6" y1="282.6" x2="196.6" y2="284.8" stroke="#999" stroke-width="0.6"/><text class="t" x="196.6" y="292.8" text-anchor="middle">-1.2</text><line x1="207.3" y1="282.6" x2="207.3" y2="283.8" stroke="#aaa" stroke-width="0.6"/><line x1="218.0" y1="282.6" x2="218.0" y2="284.8" stroke="#999" stroke-width="0.6"/><text class="t" x="218.0" y="292.8" text-anchor="middle">-0.8</text><line x1="228.8" y1="282.6" x2="228.8" y2="283.8" stroke="#aaa" stroke-width="0.6"/><line x1="239.5" y1="282.6" x2="239.5" y2="284.8" stroke="#999" stroke-width="0.6"/><text class="t" x="239.5" y="292.8" text-anchor="middle">-0.4</text><line x1="250.2" y1="282.6" x2="250.2" y2="283.8" stroke="#aaa" stroke-width="0.6"/><line x1="260.9" y1="282.6" x2="260.9" y2="284.8" stroke="#999" stroke-width="0.6"/><text class="t" x="260.9" y="292.8" text-anchor="middle">0.0</text><line x1="271.6" y1="282.6" x2="271.6" y2="283.8" stroke="#aaa" stroke-width="0.6"/><line x1="282.3" y1="282.6" x2="282.3" y2="284.8" stroke="#999" stroke-width="0.6"/><text class="t" x="282.3" y="292.8" text-anchor="middle">0.4</text><line x1="293.0" y1="282.6" x2="293.0" y2="283.8" stroke="#aaa" stroke-width="0.6"/><line x1="303.8" y1="282.6" x2="303.8" y2="284.8" stroke="#999" stroke-width="0.6"/><text class="t" x="303.8" y="292.8" text-anchor="middle">0.8</text><line x1="314.5" y1="282.6" x2="314.5" y2="283.8" stroke="#aaa" stroke-width="0.6"/><line x1="325.2" y1="282.6" x2="325.2" y2="284.8" stroke="#999" stroke-width="0.6"/><text class="t" x="325.2" y="292.8" text-anchor="middle">1.2</text>
<text class="l" x="260.9" y="303.8" text-anchor="middle">Position (cm)</text>
<text class="l" transform="translate(172.8,229.0) rotate(-90)" text-anchor="middle">Wavelength (nm)</text>
<text class="pr" x="157.6" y="167.0">d</text>
<rect x="334.2" y="191.2" width="8.4" height="64.8" fill="url(#cb)"/>
<text x="346.4" y="195.1" font-size="5.8" text-anchor="middle">0</text><text x="346.4" y="211.0" font-size="5.8" text-anchor="middle">2</text><text x="346.4" y="226.9" font-size="5.8" text-anchor="middle">4</text><text x="346.4" y="242.8" font-size="5.8" text-anchor="middle">6</text><text x="346.4" y="258.7" font-size="5.8" text-anchor="middle">8</text>
<path d="M298.86 280.80 A19.70 19.70 0 1 1 313.94 280.80 Z" fill="#c9c578"/>
<line x1="292.1" y1="264.5" x2="316.9" y2="264.5" stroke="#1c1c08" stroke-width="1.3"/><path d="M321.0 264.5 L316.0 262.2 L316.0 266.8 Z" fill="#000"/><text class="k" x="306.1" y="272.6" font-size="7.6" text-anchor="middle" style="font-weight:normal;stroke:#000;stroke-width:0.3px">X</text>
<rect x="392.8" y="164.2" width="134.0" height="118.4" fill="url(#gp)"/>
<rect x="392.8" y="164.2" width="134" height="118.4" fill="url(#ov)" mask="url(#mf)"/>
<line x1="390.6" y1="164.2" x2="392.8" y2="164.2" stroke="#999" stroke-width="0.6"/><text class="t" x="389.2" y="166.5" text-anchor="end">750</text><line x1="391.6" y1="179.0" x2="392.8" y2="179.0" stroke="#aaa" stroke-width="0.6"/><line x1="390.6" y1="193.8" x2="392.8" y2="193.8" stroke="#999" stroke-width="0.6"/><text class="t" x="389.2" y="196.2" text-anchor="end">700</text><line x1="391.6" y1="208.6" x2="392.8" y2="208.6" stroke="#aaa" stroke-width="0.6"/><line x1="390.6" y1="223.4" x2="392.8" y2="223.4" stroke="#999" stroke-width="0.6"/><text class="t" x="389.2" y="225.8" text-anchor="end">650</text><line x1="391.6" y1="238.2" x2="392.8" y2="238.2" stroke="#aaa" stroke-width="0.6"/><line x1="390.6" y1="253.0" x2="392.8" y2="253.0" stroke="#999" stroke-width="0.6"/><text class="t" x="389.2" y="255.3" text-anchor="end">600</text><line x1="391.6" y1="267.8" x2="392.8" y2="267.8" stroke="#aaa" stroke-width="0.6"/><line x1="390.6" y1="282.6" x2="392.8" y2="282.6" stroke="#999" stroke-width="0.6"/><text class="t" x="389.2" y="285.0" text-anchor="end">550</text>
<line x1="395.6" y1="282.6" x2="395.6" y2="284.8" stroke="#999" stroke-width="0.6"/><text class="t" x="395.6" y="292.8" text-anchor="middle">-1.2</text><line x1="406.3" y1="282.6" x2="406.3" y2="283.8" stroke="#aaa" stroke-width="0.6"/><line x1="417.0" y1="282.6" x2="417.0" y2="284.8" stroke="#999" stroke-width="0.6"/><text class="t" x="417.0" y="292.8" text-anchor="middle">-0.8</text><line x1="427.7" y1="282.6" x2="427.7" y2="283.8" stroke="#aaa" stroke-width="0.6"/><line x1="438.4" y1="282.6" x2="438.4" y2="284.8" stroke="#999" stroke-width="0.6"/><text class="t" x="438.4" y="292.8" text-anchor="middle">-0.4</text><line x1="449.1" y1="282.6" x2="449.1" y2="283.8" stroke="#aaa" stroke-width="0.6"/><line x1="459.8" y1="282.6" x2="459.8" y2="284.8" stroke="#999" stroke-width="0.6"/><text class="t" x="459.8" y="292.8" text-anchor="middle">0.0</text><line x1="470.5" y1="282.6" x2="470.5" y2="283.8" stroke="#aaa" stroke-width="0.6"/><line x1="481.2" y1="282.6" x2="481.2" y2="284.8" stroke="#999" stroke-width="0.6"/><text class="t" x="481.2" y="292.8" text-anchor="middle">0.4</text><line x1="491.9" y1="282.6" x2="491.9" y2="283.8" stroke="#aaa" stroke-width="0.6"/><line x1="502.6" y1="282.6" x2="502.6" y2="284.8" stroke="#999" stroke-width="0.6"/><text class="t" x="502.6" y="292.8" text-anchor="middle">0.8</text><line x1="513.3" y1="282.6" x2="513.3" y2="283.8" stroke="#aaa" stroke-width="0.6"/><line x1="524.0" y1="282.6" x2="524.0" y2="284.8" stroke="#999" stroke-width="0.6"/><text class="t" x="524.0" y="292.8" text-anchor="middle">1.2</text>
<text class="l" x="459.8" y="303.8" text-anchor="middle">Position (cm)</text>
<text class="l" transform="translate(371.8,229.0) rotate(-90)" text-anchor="middle">Wavelength (nm)</text>
<text class="pr" style="stroke-width:0.1px" transform="translate(358.2,167.0) scale(1.4,1)">f</text>
<rect x="533.4" y="190.6" width="8.2" height="64.4" fill="url(#cb)"/>
<text x="545.6" y="194.5" font-size="5.8" text-anchor="middle">0</text><text x="545.6" y="210.3" font-size="5.8" text-anchor="middle">2</text><text x="545.6" y="226.1" font-size="5.8" text-anchor="middle">4</text><text x="545.6" y="241.9" font-size="5.8" text-anchor="middle">6</text><text x="545.6" y="257.7" font-size="5.8" text-anchor="middle">8</text>
<path d="M497.66 280.80 A19.70 19.70 0 1 1 512.74 280.80 Z" fill="#c9c578"/>
<line x1="505.9" y1="277.1" x2="505.9" y2="252.6" stroke="#1c1c08" stroke-width="1.3"/><path d="M505.9 248.4 L503.6 253.4 L508.2 253.4 Z" fill="#000"/><text class="k" x="512.1" y="266.0" font-size="7.6" text-anchor="middle">Y</text>
</svg>
</body></html>
